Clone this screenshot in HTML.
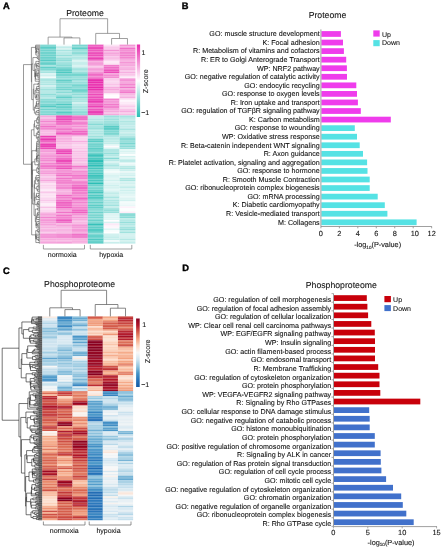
<!DOCTYPE html><html><head><meta charset="utf-8"><style>html,body{margin:0;padding:0;background:#fff;width:442px;height:550px;overflow:hidden}svg{display:block}</style></head><body><div style="will-change:transform;width:442px;height:550px"><svg width="442" height="550" viewBox="0 0 442 550" font-family='"Liberation Sans", sans-serif'><style>text{stroke:#141414;stroke-width:0.1px;text-rendering:geometricPrecision}.pl text{stroke:#000;stroke-width:0.4px}</style><rect width="442" height="550" fill="#fff"/><g font-weight="bold" font-size="9.3" fill="#000" class="pl"><text x="3" y="9.2">A</text><text x="181.8" y="9.3">B</text><text x="3" y="274.2">C</text><text x="182.2" y="270.9">D</text></g><rect x="40.2" y="44.6" width="15.89" height="1.71" fill="#83d9d4"/><rect x="56.07" y="44.6" width="15.89" height="1.71" fill="#f3fbfb"/><rect x="71.93" y="44.6" width="15.89" height="1.71" fill="#7bd6d1"/><rect x="87.8" y="44.6" width="15.89" height="1.71" fill="#ee5fc1"/><rect x="103.67" y="44.6" width="15.89" height="1.71" fill="#fce3f4"/><rect x="119.53" y="44.6" width="15.89" height="1.71" fill="#f497d6"/><rect x="40.2" y="46.29" width="15.89" height="1.71" fill="#5ccdc7"/><rect x="56.07" y="46.29" width="15.89" height="1.71" fill="#c2ecea"/><rect x="71.93" y="46.29" width="15.89" height="1.71" fill="#7dd7d2"/><rect x="87.8" y="46.29" width="15.89" height="1.71" fill="#ec50bb"/><rect x="103.67" y="46.29" width="15.89" height="1.71" fill="#f9c8ea"/><rect x="119.53" y="46.29" width="15.89" height="1.71" fill="#f5a6dc"/><rect x="40.2" y="47.97" width="15.89" height="1.71" fill="#6dd2cd"/><rect x="56.07" y="47.97" width="15.89" height="1.71" fill="#daf3f2"/><rect x="71.93" y="47.97" width="15.89" height="1.71" fill="#60cec8"/><rect x="87.8" y="47.97" width="15.89" height="1.71" fill="#eb4ab8"/><rect x="103.67" y="47.97" width="15.89" height="1.71" fill="#f9cceb"/><rect x="119.53" y="47.97" width="15.89" height="1.71" fill="#f071c8"/><rect x="40.2" y="49.66" width="15.89" height="1.71" fill="#71d3ce"/><rect x="56.07" y="49.66" width="15.89" height="1.71" fill="#a8e4e1"/><rect x="71.93" y="49.66" width="15.89" height="1.71" fill="#9be0dc"/><rect x="87.8" y="49.66" width="15.89" height="1.71" fill="#ed5bbf"/><rect x="103.67" y="49.66" width="15.89" height="1.71" fill="#f394d5"/><rect x="119.53" y="49.66" width="15.89" height="1.71" fill="#f392d4"/><rect x="40.2" y="51.35" width="15.89" height="1.71" fill="#71d3ce"/><rect x="56.07" y="51.35" width="15.89" height="1.71" fill="#bbeae8"/><rect x="71.93" y="51.35" width="15.89" height="1.71" fill="#92ddd9"/><rect x="87.8" y="51.35" width="15.89" height="1.71" fill="#ed5cbf"/><rect x="103.67" y="51.35" width="15.89" height="1.71" fill="#f7b4e2"/><rect x="119.53" y="51.35" width="15.89" height="1.71" fill="#f285cf"/><rect x="40.2" y="53.03" width="15.89" height="1.71" fill="#6fd3cd"/><rect x="56.07" y="53.03" width="15.89" height="1.71" fill="#b6e9e6"/><rect x="71.93" y="53.03" width="15.89" height="1.71" fill="#89dbd6"/><rect x="87.8" y="53.03" width="15.89" height="1.71" fill="#ec4cb9"/><rect x="103.67" y="53.03" width="15.89" height="1.71" fill="#f5a4db"/><rect x="119.53" y="53.03" width="15.89" height="1.71" fill="#f289d1"/><rect x="40.2" y="54.72" width="15.89" height="1.71" fill="#6dd2cc"/><rect x="56.07" y="54.72" width="15.89" height="1.71" fill="#98dfdb"/><rect x="71.93" y="54.72" width="15.89" height="1.71" fill="#afe6e3"/><rect x="87.8" y="54.72" width="15.89" height="1.71" fill="#ec4fba"/><rect x="103.67" y="54.72" width="15.89" height="1.71" fill="#f7b1e1"/><rect x="119.53" y="54.72" width="15.89" height="1.71" fill="#f182ce"/><rect x="40.2" y="56.41" width="15.89" height="1.71" fill="#6cd2cc"/><rect x="56.07" y="56.41" width="15.89" height="1.71" fill="#b5e8e5"/><rect x="71.93" y="56.41" width="15.89" height="1.71" fill="#b1e7e4"/><rect x="87.8" y="56.41" width="15.89" height="1.71" fill="#ee60c1"/><rect x="103.67" y="56.41" width="15.89" height="1.71" fill="#f8c1e7"/><rect x="119.53" y="56.41" width="15.89" height="1.71" fill="#f287d0"/><rect x="40.2" y="58.09" width="15.89" height="1.71" fill="#6dd2cd"/><rect x="56.07" y="58.09" width="15.89" height="1.71" fill="#94deda"/><rect x="71.93" y="58.09" width="15.89" height="1.71" fill="#afe6e3"/><rect x="87.8" y="58.09" width="15.89" height="1.71" fill="#e933af"/><rect x="103.67" y="58.09" width="15.89" height="1.71" fill="#f8bae4"/><rect x="119.53" y="58.09" width="15.89" height="1.71" fill="#f495d6"/><rect x="40.2" y="59.78" width="15.89" height="1.71" fill="#57cbc5"/><rect x="56.07" y="59.78" width="15.89" height="1.71" fill="#91ddd9"/><rect x="71.93" y="59.78" width="15.89" height="1.71" fill="#dbf4f2"/><rect x="87.8" y="59.78" width="15.89" height="1.71" fill="#f289d1"/><rect x="103.67" y="59.78" width="15.89" height="1.71" fill="#fbd8f0"/><rect x="119.53" y="59.78" width="15.89" height="1.71" fill="#f7b3e1"/><rect x="40.2" y="61.46" width="15.89" height="1.71" fill="#77d5d0"/><rect x="56.07" y="61.46" width="15.89" height="1.71" fill="#a5e3e0"/><rect x="71.93" y="61.46" width="15.89" height="1.71" fill="#c7eeec"/><rect x="87.8" y="61.46" width="15.89" height="1.71" fill="#f5a3db"/><rect x="103.67" y="61.46" width="15.89" height="1.71" fill="#fde9f6"/><rect x="119.53" y="61.46" width="15.89" height="1.71" fill="#f497d6"/><rect x="40.2" y="63.15" width="15.89" height="1.71" fill="#50c9c2"/><rect x="56.07" y="63.15" width="15.89" height="1.71" fill="#90ddd9"/><rect x="71.93" y="63.15" width="15.89" height="1.71" fill="#beebe8"/><rect x="87.8" y="63.15" width="15.89" height="1.71" fill="#f38ed3"/><rect x="103.67" y="63.15" width="15.89" height="1.71" fill="#fce0f3"/><rect x="119.53" y="63.15" width="15.89" height="1.71" fill="#f5a3db"/><rect x="40.2" y="64.84" width="15.89" height="1.71" fill="#abe5e2"/><rect x="56.07" y="64.84" width="15.89" height="1.71" fill="#8ddcd7"/><rect x="71.93" y="64.84" width="15.89" height="1.71" fill="#d9f3f2"/><rect x="87.8" y="64.84" width="15.89" height="1.71" fill="#f7b1e1"/><rect x="103.67" y="64.84" width="15.89" height="1.71" fill="#f17dcc"/><rect x="119.53" y="64.84" width="15.89" height="1.71" fill="#f6a8dd"/><rect x="40.2" y="66.52" width="15.89" height="1.71" fill="#62cfc9"/><rect x="56.07" y="66.52" width="15.89" height="1.71" fill="#85d9d5"/><rect x="71.93" y="66.52" width="15.89" height="1.71" fill="#c5edeb"/><rect x="87.8" y="66.52" width="15.89" height="1.71" fill="#f8c2e7"/><rect x="103.67" y="66.52" width="15.89" height="1.71" fill="#ef6dc6"/><rect x="119.53" y="66.52" width="15.89" height="1.71" fill="#f7b7e3"/><rect x="40.2" y="68.21" width="15.89" height="1.71" fill="#74d4cf"/><rect x="56.07" y="68.21" width="15.89" height="1.71" fill="#5ecdc7"/><rect x="71.93" y="68.21" width="15.89" height="1.71" fill="#99e0dc"/><rect x="87.8" y="68.21" width="15.89" height="1.71" fill="#f394d5"/><rect x="103.67" y="68.21" width="15.89" height="1.71" fill="#ef6cc6"/><rect x="119.53" y="68.21" width="15.89" height="1.71" fill="#f5a6dc"/><rect x="40.2" y="69.9" width="15.89" height="1.71" fill="#a0e2de"/><rect x="56.07" y="69.9" width="15.89" height="1.71" fill="#61cec8"/><rect x="71.93" y="69.9" width="15.89" height="1.71" fill="#b1e7e4"/><rect x="87.8" y="69.9" width="15.89" height="1.71" fill="#f6a9de"/><rect x="103.67" y="69.9" width="15.89" height="1.71" fill="#ed56bd"/><rect x="119.53" y="69.9" width="15.89" height="1.71" fill="#f9cbeb"/><rect x="40.2" y="71.58" width="15.89" height="1.71" fill="#a5e3e0"/><rect x="56.07" y="71.58" width="15.89" height="1.71" fill="#4ec9c2"/><rect x="71.93" y="71.58" width="15.89" height="1.71" fill="#99e0dc"/><rect x="87.8" y="71.58" width="15.89" height="1.71" fill="#f392d5"/><rect x="103.67" y="71.58" width="15.89" height="1.71" fill="#ec4bb9"/><rect x="119.53" y="71.58" width="15.89" height="1.71" fill="#f6afe0"/><rect x="40.2" y="73.27" width="15.89" height="1.71" fill="#dcf4f3"/><rect x="56.07" y="73.27" width="15.89" height="1.71" fill="#75d4cf"/><rect x="71.93" y="73.27" width="15.89" height="1.71" fill="#72d4ce"/><rect x="87.8" y="73.27" width="15.89" height="1.71" fill="#ef6ac5"/><rect x="103.67" y="73.27" width="15.89" height="1.71" fill="#f5a1da"/><rect x="119.53" y="73.27" width="15.89" height="1.71" fill="#f9c5e9"/><rect x="40.2" y="74.96" width="15.89" height="1.71" fill="#d0f0ef"/><rect x="56.07" y="74.96" width="15.89" height="1.71" fill="#74d4cf"/><rect x="71.93" y="74.96" width="15.89" height="1.71" fill="#77d5d0"/><rect x="87.8" y="74.96" width="15.89" height="1.71" fill="#f075c9"/><rect x="103.67" y="74.96" width="15.89" height="1.71" fill="#f38cd2"/><rect x="119.53" y="74.96" width="15.89" height="1.71" fill="#facfec"/><rect x="40.2" y="76.64" width="15.89" height="1.71" fill="#f1fbfa"/><rect x="56.07" y="76.64" width="15.89" height="1.71" fill="#8edcd8"/><rect x="71.93" y="76.64" width="15.89" height="1.71" fill="#99e0dc"/><rect x="87.8" y="76.64" width="15.89" height="1.71" fill="#f180cd"/><rect x="103.67" y="76.64" width="15.89" height="1.71" fill="#f38fd3"/><rect x="119.53" y="76.64" width="15.89" height="1.71" fill="#fdedf8"/><rect x="40.2" y="78.33" width="15.89" height="1.71" fill="#a9e5e1"/><rect x="56.07" y="78.33" width="15.89" height="1.71" fill="#8edcd8"/><rect x="71.93" y="78.33" width="15.89" height="1.71" fill="#8fdcd8"/><rect x="87.8" y="78.33" width="15.89" height="1.71" fill="#eb41b5"/><rect x="103.67" y="78.33" width="15.89" height="1.71" fill="#faceec"/><rect x="119.53" y="78.33" width="15.89" height="1.71" fill="#f497d7"/><rect x="40.2" y="80.02" width="15.89" height="1.71" fill="#abe5e2"/><rect x="56.07" y="80.02" width="15.89" height="1.71" fill="#61cec8"/><rect x="71.93" y="80.02" width="15.89" height="1.71" fill="#a4e3e0"/><rect x="87.8" y="80.02" width="15.89" height="1.71" fill="#e82dad"/><rect x="103.67" y="80.02" width="15.89" height="1.71" fill="#fad4ee"/><rect x="119.53" y="80.02" width="15.89" height="1.71" fill="#f392d5"/><rect x="40.2" y="81.7" width="15.89" height="1.71" fill="#b5e8e5"/><rect x="56.07" y="81.7" width="15.89" height="1.71" fill="#7fd8d3"/><rect x="71.93" y="81.7" width="15.89" height="1.71" fill="#98dfdc"/><rect x="87.8" y="81.7" width="15.89" height="1.71" fill="#e930ae"/><rect x="103.67" y="81.7" width="15.89" height="1.71" fill="#fad5ef"/><rect x="119.53" y="81.7" width="15.89" height="1.71" fill="#f6a9dd"/><rect x="40.2" y="83.39" width="15.89" height="1.71" fill="#aee6e3"/><rect x="56.07" y="83.39" width="15.89" height="1.71" fill="#8bdbd7"/><rect x="71.93" y="83.39" width="15.89" height="1.71" fill="#8adbd7"/><rect x="87.8" y="83.39" width="15.89" height="1.71" fill="#ea39b2"/><rect x="103.67" y="83.39" width="15.89" height="1.71" fill="#f9c3e8"/><rect x="119.53" y="83.39" width="15.89" height="1.71" fill="#f287d0"/><rect x="40.2" y="85.07" width="15.89" height="1.71" fill="#d2f1f0"/><rect x="56.07" y="85.07" width="15.89" height="1.71" fill="#91ddd9"/><rect x="71.93" y="85.07" width="15.89" height="1.71" fill="#6ed2cd"/><rect x="87.8" y="85.07" width="15.89" height="1.71" fill="#ea3cb3"/><rect x="103.67" y="85.07" width="15.89" height="1.71" fill="#fad1ed"/><rect x="119.53" y="85.07" width="15.89" height="1.71" fill="#f59ed9"/><rect x="40.2" y="86.76" width="15.89" height="1.71" fill="#b9eae7"/><rect x="56.07" y="86.76" width="15.89" height="1.71" fill="#7ad6d1"/><rect x="71.93" y="86.76" width="15.89" height="1.71" fill="#8adbd6"/><rect x="87.8" y="86.76" width="15.89" height="1.71" fill="#e82aac"/><rect x="103.67" y="86.76" width="15.89" height="1.71" fill="#f6addf"/><rect x="119.53" y="86.76" width="15.89" height="1.71" fill="#f077ca"/><rect x="40.2" y="88.45" width="15.89" height="1.71" fill="#a1e2de"/><rect x="56.07" y="88.45" width="15.89" height="1.71" fill="#73d4ce"/><rect x="71.93" y="88.45" width="15.89" height="1.71" fill="#76d5d0"/><rect x="87.8" y="88.45" width="15.89" height="1.71" fill="#e933af"/><rect x="103.67" y="88.45" width="15.89" height="1.71" fill="#f6a9dd"/><rect x="119.53" y="88.45" width="15.89" height="1.71" fill="#f6aade"/><rect x="40.2" y="90.13" width="15.89" height="1.71" fill="#aee6e3"/><rect x="56.07" y="90.13" width="15.89" height="1.71" fill="#9ee1dd"/><rect x="71.93" y="90.13" width="15.89" height="1.71" fill="#5ccdc7"/><rect x="87.8" y="90.13" width="15.89" height="1.71" fill="#ec51bb"/><rect x="103.67" y="90.13" width="15.89" height="1.71" fill="#f7b8e3"/><rect x="119.53" y="90.13" width="15.89" height="1.71" fill="#f283cf"/><rect x="40.2" y="91.82" width="15.89" height="1.71" fill="#b7e9e6"/><rect x="56.07" y="91.82" width="15.89" height="1.71" fill="#8bdbd7"/><rect x="71.93" y="91.82" width="15.89" height="1.71" fill="#8fddd8"/><rect x="87.8" y="91.82" width="15.89" height="1.71" fill="#ee65c3"/><rect x="103.67" y="91.82" width="15.89" height="1.71" fill="#f7bae4"/><rect x="119.53" y="91.82" width="15.89" height="1.71" fill="#f17acb"/><rect x="40.2" y="93.51" width="15.89" height="1.71" fill="#8fddd8"/><rect x="56.07" y="93.51" width="15.89" height="1.71" fill="#abe5e2"/><rect x="71.93" y="93.51" width="15.89" height="1.71" fill="#91ddd9"/><rect x="87.8" y="93.51" width="15.89" height="1.71" fill="#ec4cb9"/><rect x="103.67" y="93.51" width="15.89" height="1.71" fill="#fef4fb"/><rect x="119.53" y="93.51" width="15.89" height="1.71" fill="#f7b8e3"/><rect x="40.2" y="95.19" width="15.89" height="1.71" fill="#a1e2df"/><rect x="56.07" y="95.19" width="15.89" height="1.71" fill="#82d9d4"/><rect x="71.93" y="95.19" width="15.89" height="1.71" fill="#a4e3e0"/><rect x="87.8" y="95.19" width="15.89" height="1.71" fill="#ee61c1"/><rect x="103.67" y="95.19" width="15.89" height="1.71" fill="#fffcfe"/><rect x="119.53" y="95.19" width="15.89" height="1.71" fill="#f8bee6"/><rect x="40.2" y="96.88" width="15.89" height="1.71" fill="#bdebe8"/><rect x="56.07" y="96.88" width="15.89" height="1.71" fill="#64cfc9"/><rect x="71.93" y="96.88" width="15.89" height="1.71" fill="#8cdcd7"/><rect x="87.8" y="96.88" width="15.89" height="1.71" fill="#ec4eba"/><rect x="103.67" y="96.88" width="15.89" height="1.71" fill="#fffeff"/><rect x="119.53" y="96.88" width="15.89" height="1.71" fill="#f6b0e0"/><rect x="40.2" y="98.57" width="15.89" height="1.71" fill="#8ddcd7"/><rect x="56.07" y="98.57" width="15.89" height="1.71" fill="#92ddd9"/><rect x="71.93" y="98.57" width="15.89" height="1.71" fill="#ace5e2"/><rect x="87.8" y="98.57" width="15.89" height="1.71" fill="#ec4eba"/><rect x="103.67" y="98.57" width="15.89" height="1.71" fill="#f285cf"/><rect x="119.53" y="98.57" width="15.89" height="1.71" fill="#fce5f5"/><rect x="40.2" y="100.25" width="15.89" height="1.71" fill="#80d8d3"/><rect x="56.07" y="100.25" width="15.89" height="1.71" fill="#8ddcd7"/><rect x="71.93" y="100.25" width="15.89" height="1.71" fill="#a7e4e0"/><rect x="87.8" y="100.25" width="15.89" height="1.71" fill="#e935b0"/><rect x="103.67" y="100.25" width="15.89" height="1.71" fill="#f495d6"/><rect x="119.53" y="100.25" width="15.89" height="1.71" fill="#fef5fb"/><rect x="40.2" y="101.94" width="15.89" height="1.71" fill="#8adbd7"/><rect x="56.07" y="101.94" width="15.89" height="1.71" fill="#88dad6"/><rect x="71.93" y="101.94" width="15.89" height="1.71" fill="#d4f2f0"/><rect x="87.8" y="101.94" width="15.89" height="1.71" fill="#ed55bd"/><rect x="103.67" y="101.94" width="15.89" height="1.71" fill="#f49dd9"/><rect x="119.53" y="101.94" width="15.89" height="1.71" fill="#fdeaf7"/><rect x="40.2" y="103.63" width="15.89" height="1.71" fill="#77d5d0"/><rect x="56.07" y="103.63" width="15.89" height="1.71" fill="#51c9c3"/><rect x="71.93" y="103.63" width="15.89" height="1.71" fill="#b8e9e7"/><rect x="87.8" y="103.63" width="15.89" height="1.71" fill="#ee64c3"/><rect x="103.67" y="103.63" width="15.89" height="1.71" fill="#f17acb"/><rect x="119.53" y="103.63" width="15.89" height="1.71" fill="#fce2f4"/><rect x="40.2" y="105.31" width="15.89" height="1.71" fill="#54cac4"/><rect x="56.07" y="105.31" width="15.89" height="1.71" fill="#72d4ce"/><rect x="71.93" y="105.31" width="15.89" height="1.71" fill="#ade6e3"/><rect x="87.8" y="105.31" width="15.89" height="1.71" fill="#eb44b6"/><rect x="103.67" y="105.31" width="15.89" height="1.71" fill="#f284cf"/><rect x="119.53" y="105.31" width="15.89" height="1.71" fill="#f9cceb"/><rect x="40.2" y="107" width="15.89" height="1.71" fill="#90ddd8"/><rect x="56.07" y="107" width="15.89" height="1.71" fill="#67d0ca"/><rect x="71.93" y="107" width="15.89" height="1.71" fill="#abe5e2"/><rect x="87.8" y="107" width="15.89" height="1.71" fill="#f074c9"/><rect x="103.67" y="107" width="15.89" height="1.71" fill="#f284cf"/><rect x="119.53" y="107" width="15.89" height="1.71" fill="#fbdef2"/><rect x="40.2" y="108.68" width="15.89" height="1.71" fill="#72d4ce"/><rect x="56.07" y="108.68" width="15.89" height="1.71" fill="#79d6d1"/><rect x="71.93" y="108.68" width="15.89" height="1.71" fill="#a1e2df"/><rect x="87.8" y="108.68" width="15.89" height="1.71" fill="#ed57be"/><rect x="103.67" y="108.68" width="15.89" height="1.71" fill="#f5a5dc"/><rect x="119.53" y="108.68" width="15.89" height="1.71" fill="#f9c4e8"/><rect x="40.2" y="110.37" width="15.89" height="1.71" fill="#88dad6"/><rect x="56.07" y="110.37" width="15.89" height="1.71" fill="#7ed7d2"/><rect x="71.93" y="110.37" width="15.89" height="1.71" fill="#96dfdb"/><rect x="87.8" y="110.37" width="15.89" height="1.71" fill="#eb44b6"/><rect x="103.67" y="110.37" width="15.89" height="1.71" fill="#f6a9dd"/><rect x="119.53" y="110.37" width="15.89" height="1.71" fill="#f6acdf"/><rect x="40.2" y="112.06" width="15.89" height="1.71" fill="#81d8d3"/><rect x="56.07" y="112.06" width="15.89" height="1.71" fill="#4ec9c2"/><rect x="71.93" y="112.06" width="15.89" height="1.71" fill="#85d9d5"/><rect x="87.8" y="112.06" width="15.89" height="1.71" fill="#e934b0"/><rect x="103.67" y="112.06" width="15.89" height="1.71" fill="#f8c2e7"/><rect x="119.53" y="112.06" width="15.89" height="1.71" fill="#f9c9ea"/><rect x="40.2" y="113.74" width="15.89" height="1.71" fill="#7bd6d1"/><rect x="56.07" y="113.74" width="15.89" height="1.71" fill="#80d8d3"/><rect x="71.93" y="113.74" width="15.89" height="1.71" fill="#91ddd9"/><rect x="87.8" y="113.74" width="15.89" height="1.71" fill="#ed58be"/><rect x="103.67" y="113.74" width="15.89" height="1.71" fill="#f6aade"/><rect x="119.53" y="113.74" width="15.89" height="1.71" fill="#f8bce5"/><rect x="40.2" y="115.43" width="15.89" height="1.71" fill="#f6aade"/><rect x="56.07" y="115.43" width="15.89" height="1.71" fill="#ec4fba"/><rect x="71.93" y="115.43" width="15.89" height="1.71" fill="#f17acb"/><rect x="87.8" y="115.43" width="15.89" height="1.71" fill="#c8eeec"/><rect x="103.67" y="115.43" width="15.89" height="1.71" fill="#9fe1de"/><rect x="119.53" y="115.43" width="15.89" height="1.71" fill="#a8e4e1"/><rect x="40.2" y="117.12" width="15.89" height="1.71" fill="#f8bde5"/><rect x="56.07" y="117.12" width="15.89" height="1.71" fill="#ec4dba"/><rect x="71.93" y="117.12" width="15.89" height="1.71" fill="#ed5cbf"/><rect x="87.8" y="117.12" width="15.89" height="1.71" fill="#c1ecea"/><rect x="103.67" y="117.12" width="15.89" height="1.71" fill="#aae5e2"/><rect x="119.53" y="117.12" width="15.89" height="1.71" fill="#ade6e3"/><rect x="40.2" y="118.8" width="15.89" height="1.71" fill="#f6a9de"/><rect x="56.07" y="118.8" width="15.89" height="1.71" fill="#eb48b8"/><rect x="71.93" y="118.8" width="15.89" height="1.71" fill="#ef6ec6"/><rect x="87.8" y="118.8" width="15.89" height="1.71" fill="#b1e7e4"/><rect x="103.67" y="118.8" width="15.89" height="1.71" fill="#9fe2de"/><rect x="119.53" y="118.8" width="15.89" height="1.71" fill="#c6edeb"/><rect x="40.2" y="120.49" width="15.89" height="1.71" fill="#f287d0"/><rect x="56.07" y="120.49" width="15.89" height="1.71" fill="#ee60c1"/><rect x="71.93" y="120.49" width="15.89" height="1.71" fill="#f59fda"/><rect x="87.8" y="120.49" width="15.89" height="1.71" fill="#b1e7e4"/><rect x="103.67" y="120.49" width="15.89" height="1.71" fill="#9ee1dd"/><rect x="119.53" y="120.49" width="15.89" height="1.71" fill="#afe6e3"/><rect x="40.2" y="122.18" width="15.89" height="1.71" fill="#f5a3db"/><rect x="56.07" y="122.18" width="15.89" height="1.71" fill="#ee63c2"/><rect x="71.93" y="122.18" width="15.89" height="1.71" fill="#ef6ec6"/><rect x="87.8" y="122.18" width="15.89" height="1.71" fill="#a0e2de"/><rect x="103.67" y="122.18" width="15.89" height="1.71" fill="#94deda"/><rect x="119.53" y="122.18" width="15.89" height="1.71" fill="#b7e9e6"/><rect x="40.2" y="123.86" width="15.89" height="1.71" fill="#f496d6"/><rect x="56.07" y="123.86" width="15.89" height="1.71" fill="#f076ca"/><rect x="71.93" y="123.86" width="15.89" height="1.71" fill="#f38fd3"/><rect x="87.8" y="123.86" width="15.89" height="1.71" fill="#87dad6"/><rect x="103.67" y="123.86" width="15.89" height="1.71" fill="#8fddd8"/><rect x="119.53" y="123.86" width="15.89" height="1.71" fill="#bceae8"/><rect x="40.2" y="125.55" width="15.89" height="1.71" fill="#f073c8"/><rect x="56.07" y="125.55" width="15.89" height="1.71" fill="#f497d6"/><rect x="71.93" y="125.55" width="15.89" height="1.71" fill="#f390d4"/><rect x="87.8" y="125.55" width="15.89" height="1.71" fill="#a9e4e1"/><rect x="103.67" y="125.55" width="15.89" height="1.71" fill="#5accc6"/><rect x="119.53" y="125.55" width="15.89" height="1.71" fill="#c1ecea"/><rect x="40.2" y="127.24" width="15.89" height="1.71" fill="#f283cf"/><rect x="56.07" y="127.24" width="15.89" height="1.71" fill="#f283cf"/><rect x="71.93" y="127.24" width="15.89" height="1.71" fill="#f5a0da"/><rect x="87.8" y="127.24" width="15.89" height="1.71" fill="#93deda"/><rect x="103.67" y="127.24" width="15.89" height="1.71" fill="#54cac4"/><rect x="119.53" y="127.24" width="15.89" height="1.71" fill="#bfebe9"/><rect x="40.2" y="128.92" width="15.89" height="1.71" fill="#f49cd8"/><rect x="56.07" y="128.92" width="15.89" height="1.71" fill="#f075c9"/><rect x="71.93" y="128.92" width="15.89" height="1.71" fill="#f38cd2"/><rect x="87.8" y="128.92" width="15.89" height="1.71" fill="#b1e7e4"/><rect x="103.67" y="128.92" width="15.89" height="1.71" fill="#68d0cb"/><rect x="119.53" y="128.92" width="15.89" height="1.71" fill="#a8e4e1"/><rect x="40.2" y="130.61" width="15.89" height="1.71" fill="#f8bce5"/><rect x="56.07" y="130.61" width="15.89" height="1.71" fill="#f288d1"/><rect x="71.93" y="130.61" width="15.89" height="1.71" fill="#ee66c3"/><rect x="87.8" y="130.61" width="15.89" height="1.71" fill="#b0e7e4"/><rect x="103.67" y="130.61" width="15.89" height="1.71" fill="#80d8d3"/><rect x="119.53" y="130.61" width="15.89" height="1.71" fill="#c4edeb"/><rect x="40.2" y="132.29" width="15.89" height="1.71" fill="#f8bbe5"/><rect x="56.07" y="132.29" width="15.89" height="1.71" fill="#ed58be"/><rect x="71.93" y="132.29" width="15.89" height="1.71" fill="#ef6ac5"/><rect x="87.8" y="132.29" width="15.89" height="1.71" fill="#ade6e3"/><rect x="103.67" y="132.29" width="15.89" height="1.71" fill="#7bd6d1"/><rect x="119.53" y="132.29" width="15.89" height="1.71" fill="#c9eeec"/><rect x="40.2" y="133.98" width="15.89" height="1.71" fill="#f8c2e7"/><rect x="56.07" y="133.98" width="15.89" height="1.71" fill="#f17fcd"/><rect x="71.93" y="133.98" width="15.89" height="1.71" fill="#f075c9"/><rect x="87.8" y="133.98" width="15.89" height="1.71" fill="#baeae7"/><rect x="103.67" y="133.98" width="15.89" height="1.71" fill="#86dad5"/><rect x="119.53" y="133.98" width="15.89" height="1.71" fill="#bdebe8"/><rect x="40.2" y="135.67" width="15.89" height="1.71" fill="#eb41b5"/><rect x="56.07" y="135.67" width="15.89" height="1.71" fill="#f7b0e0"/><rect x="71.93" y="135.67" width="15.89" height="1.71" fill="#f9c8ea"/><rect x="87.8" y="135.67" width="15.89" height="1.71" fill="#9de1dd"/><rect x="103.67" y="135.67" width="15.89" height="1.71" fill="#afe6e3"/><rect x="119.53" y="135.67" width="15.89" height="1.71" fill="#afe6e3"/><rect x="40.2" y="137.35" width="15.89" height="1.71" fill="#ed5cbf"/><rect x="56.07" y="137.35" width="15.89" height="1.71" fill="#f6addf"/><rect x="71.93" y="137.35" width="15.89" height="1.71" fill="#fad2ed"/><rect x="87.8" y="137.35" width="15.89" height="1.71" fill="#a2e2df"/><rect x="103.67" y="137.35" width="15.89" height="1.71" fill="#b8e9e6"/><rect x="119.53" y="137.35" width="15.89" height="1.71" fill="#8bdbd7"/><rect x="40.2" y="139.04" width="15.89" height="1.71" fill="#e932af"/><rect x="56.07" y="139.04" width="15.89" height="1.71" fill="#f7b2e1"/><rect x="71.93" y="139.04" width="15.89" height="1.71" fill="#fad5ef"/><rect x="87.8" y="139.04" width="15.89" height="1.71" fill="#61cec8"/><rect x="103.67" y="139.04" width="15.89" height="1.71" fill="#bdebe8"/><rect x="119.53" y="139.04" width="15.89" height="1.71" fill="#84d9d5"/><rect x="40.2" y="140.73" width="15.89" height="1.71" fill="#ee66c3"/><rect x="56.07" y="140.73" width="15.89" height="1.71" fill="#f6aedf"/><rect x="71.93" y="140.73" width="15.89" height="1.71" fill="#f6aee0"/><rect x="87.8" y="140.73" width="15.89" height="1.71" fill="#5accc6"/><rect x="103.67" y="140.73" width="15.89" height="1.71" fill="#beebe8"/><rect x="119.53" y="140.73" width="15.89" height="1.71" fill="#98dfdb"/><rect x="40.2" y="142.41" width="15.89" height="1.71" fill="#f072c8"/><rect x="56.07" y="142.41" width="15.89" height="1.71" fill="#f8bce5"/><rect x="71.93" y="142.41" width="15.89" height="1.71" fill="#f9c8ea"/><rect x="87.8" y="142.41" width="15.89" height="1.71" fill="#83d9d4"/><rect x="103.67" y="142.41" width="15.89" height="1.71" fill="#c2ecea"/><rect x="119.53" y="142.41" width="15.89" height="1.71" fill="#7bd6d1"/><rect x="40.2" y="144.1" width="15.89" height="1.71" fill="#e82dad"/><rect x="56.07" y="144.1" width="15.89" height="1.71" fill="#f9c5e8"/><rect x="71.93" y="144.1" width="15.89" height="1.71" fill="#fad5ef"/><rect x="87.8" y="144.1" width="15.89" height="1.71" fill="#64cfc9"/><rect x="103.67" y="144.1" width="15.89" height="1.71" fill="#def5f3"/><rect x="119.53" y="144.1" width="15.89" height="1.71" fill="#96dfdb"/><rect x="40.2" y="145.79" width="15.89" height="1.71" fill="#ea41b5"/><rect x="56.07" y="145.79" width="15.89" height="1.71" fill="#f9c6e9"/><rect x="71.93" y="145.79" width="15.89" height="1.71" fill="#fad1ed"/><rect x="87.8" y="145.79" width="15.89" height="1.71" fill="#74d4cf"/><rect x="103.67" y="145.79" width="15.89" height="1.71" fill="#fefafd"/><rect x="119.53" y="145.79" width="15.89" height="1.71" fill="#8bdbd7"/><rect x="40.2" y="147.47" width="15.89" height="1.71" fill="#ec4fba"/><rect x="56.07" y="147.47" width="15.89" height="1.71" fill="#f7b5e2"/><rect x="71.93" y="147.47" width="15.89" height="1.71" fill="#f9c6e9"/><rect x="87.8" y="147.47" width="15.89" height="1.71" fill="#5ecec7"/><rect x="103.67" y="147.47" width="15.89" height="1.71" fill="#daf4f2"/><rect x="119.53" y="147.47" width="15.89" height="1.71" fill="#9be0dc"/><rect x="40.2" y="149.16" width="15.89" height="1.71" fill="#f498d7"/><rect x="56.07" y="149.16" width="15.89" height="1.71" fill="#ec4fba"/><rect x="71.93" y="149.16" width="15.89" height="1.71" fill="#fad0ed"/><rect x="87.8" y="149.16" width="15.89" height="1.71" fill="#5fcec8"/><rect x="103.67" y="149.16" width="15.89" height="1.71" fill="#a5e3e0"/><rect x="119.53" y="149.16" width="15.89" height="1.71" fill="#e4f7f6"/><rect x="40.2" y="150.85" width="15.89" height="1.71" fill="#f49dd9"/><rect x="56.07" y="150.85" width="15.89" height="1.71" fill="#ec4cb9"/><rect x="71.93" y="150.85" width="15.89" height="1.71" fill="#f8bde5"/><rect x="87.8" y="150.85" width="15.89" height="1.71" fill="#77d5d0"/><rect x="103.67" y="150.85" width="15.89" height="1.71" fill="#b2e7e4"/><rect x="119.53" y="150.85" width="15.89" height="1.71" fill="#d8f3f1"/><rect x="40.2" y="152.53" width="15.89" height="1.71" fill="#f6aade"/><rect x="56.07" y="152.53" width="15.89" height="1.71" fill="#eb46b7"/><rect x="71.93" y="152.53" width="15.89" height="1.71" fill="#f9c5e9"/><rect x="87.8" y="152.53" width="15.89" height="1.71" fill="#6fd3cd"/><rect x="103.67" y="152.53" width="15.89" height="1.71" fill="#96dfdb"/><rect x="119.53" y="152.53" width="15.89" height="1.71" fill="#e3f6f5"/><rect x="40.2" y="154.22" width="15.89" height="1.71" fill="#f496d6"/><rect x="56.07" y="154.22" width="15.89" height="1.71" fill="#f38ed3"/><rect x="71.93" y="154.22" width="15.89" height="1.71" fill="#f9c4e8"/><rect x="87.8" y="154.22" width="15.89" height="1.71" fill="#30bfb7"/><rect x="103.67" y="154.22" width="15.89" height="1.71" fill="#ace5e2"/><rect x="119.53" y="154.22" width="15.89" height="1.71" fill="#fbfefd"/><rect x="40.2" y="155.91" width="15.89" height="1.71" fill="#f497d7"/><rect x="56.07" y="155.91" width="15.89" height="1.71" fill="#f17fcd"/><rect x="71.93" y="155.91" width="15.89" height="1.71" fill="#f9cceb"/><rect x="87.8" y="155.91" width="15.89" height="1.71" fill="#54cac4"/><rect x="103.67" y="155.91" width="15.89" height="1.71" fill="#caefed"/><rect x="119.53" y="155.91" width="15.89" height="1.71" fill="#d2f1ef"/><rect x="40.2" y="157.59" width="15.89" height="1.71" fill="#f390d4"/><rect x="56.07" y="157.59" width="15.89" height="1.71" fill="#ef6ac5"/><rect x="71.93" y="157.59" width="15.89" height="1.71" fill="#f7b4e2"/><rect x="87.8" y="157.59" width="15.89" height="1.71" fill="#4bc8c1"/><rect x="103.67" y="157.59" width="15.89" height="1.71" fill="#87dad6"/><rect x="119.53" y="157.59" width="15.89" height="1.71" fill="#e4f7f6"/><rect x="40.2" y="159.28" width="15.89" height="1.71" fill="#f289d1"/><rect x="56.07" y="159.28" width="15.89" height="1.71" fill="#eb47b7"/><rect x="71.93" y="159.28" width="15.89" height="1.71" fill="#f8bbe5"/><rect x="87.8" y="159.28" width="15.89" height="1.71" fill="#33c0b8"/><rect x="103.67" y="159.28" width="15.89" height="1.71" fill="#b7e9e6"/><rect x="119.53" y="159.28" width="15.89" height="1.71" fill="#bceae8"/><rect x="40.2" y="160.96" width="15.89" height="1.71" fill="#f6a9dd"/><rect x="56.07" y="160.96" width="15.89" height="1.71" fill="#ec4cb9"/><rect x="71.93" y="160.96" width="15.89" height="1.71" fill="#f9c7e9"/><rect x="87.8" y="160.96" width="15.89" height="1.71" fill="#2cbeb6"/><rect x="103.67" y="160.96" width="15.89" height="1.71" fill="#d9f3f2"/><rect x="119.53" y="160.96" width="15.89" height="1.71" fill="#beebe9"/><rect x="40.2" y="162.65" width="15.89" height="1.71" fill="#f283cf"/><rect x="56.07" y="162.65" width="15.89" height="1.71" fill="#ee63c2"/><rect x="71.93" y="162.65" width="15.89" height="1.71" fill="#f8c0e6"/><rect x="87.8" y="162.65" width="15.89" height="1.71" fill="#48c7c0"/><rect x="103.67" y="162.65" width="15.89" height="1.71" fill="#c7eeec"/><rect x="119.53" y="162.65" width="15.89" height="1.71" fill="#f0fafa"/><rect x="40.2" y="164.34" width="15.89" height="1.71" fill="#f180ce"/><rect x="56.07" y="164.34" width="15.89" height="1.71" fill="#f17acb"/><rect x="71.93" y="164.34" width="15.89" height="1.71" fill="#f6aedf"/><rect x="87.8" y="164.34" width="15.89" height="1.71" fill="#30bfb8"/><rect x="103.67" y="164.34" width="15.89" height="1.71" fill="#aae5e2"/><rect x="119.53" y="164.34" width="15.89" height="1.71" fill="#dff5f4"/><rect x="40.2" y="166.02" width="15.89" height="1.71" fill="#f073c9"/><rect x="56.07" y="166.02" width="15.89" height="1.71" fill="#ee5fc0"/><rect x="71.93" y="166.02" width="15.89" height="1.71" fill="#f077ca"/><rect x="87.8" y="166.02" width="15.89" height="1.71" fill="#55cbc4"/><rect x="103.67" y="166.02" width="15.89" height="1.71" fill="#bfebe9"/><rect x="119.53" y="166.02" width="15.89" height="1.71" fill="#b8e9e6"/><rect x="40.2" y="167.71" width="15.89" height="1.71" fill="#f284cf"/><rect x="56.07" y="167.71" width="15.89" height="1.71" fill="#ec52bb"/><rect x="71.93" y="167.71" width="15.89" height="1.71" fill="#f49ad8"/><rect x="87.8" y="167.71" width="15.89" height="1.71" fill="#47c6bf"/><rect x="103.67" y="167.71" width="15.89" height="1.71" fill="#bbeae8"/><rect x="119.53" y="167.71" width="15.89" height="1.71" fill="#aee6e3"/><rect x="40.2" y="169.4" width="15.89" height="1.71" fill="#f7b0e0"/><rect x="56.07" y="169.4" width="15.89" height="1.71" fill="#f496d6"/><rect x="71.93" y="169.4" width="15.89" height="1.71" fill="#f6aee0"/><rect x="87.8" y="169.4" width="15.89" height="1.71" fill="#62cfc9"/><rect x="103.67" y="169.4" width="15.89" height="1.71" fill="#ebf9f8"/><rect x="119.53" y="169.4" width="15.89" height="1.71" fill="#cbefed"/><rect x="40.2" y="171.08" width="15.89" height="1.71" fill="#f49dd9"/><rect x="56.07" y="171.08" width="15.89" height="1.71" fill="#f391d4"/><rect x="71.93" y="171.08" width="15.89" height="1.71" fill="#f285cf"/><rect x="87.8" y="171.08" width="15.89" height="1.71" fill="#62cfc9"/><rect x="103.67" y="171.08" width="15.89" height="1.71" fill="#f5fcfb"/><rect x="119.53" y="171.08" width="15.89" height="1.71" fill="#e9f8f7"/><rect x="40.2" y="172.77" width="15.89" height="1.71" fill="#f49bd8"/><rect x="56.07" y="172.77" width="15.89" height="1.71" fill="#f283ce"/><rect x="71.93" y="172.77" width="15.89" height="1.71" fill="#f499d7"/><rect x="87.8" y="172.77" width="15.89" height="1.71" fill="#4bc8c1"/><rect x="103.67" y="172.77" width="15.89" height="1.71" fill="#e5f7f6"/><rect x="119.53" y="172.77" width="15.89" height="1.71" fill="#d8f3f2"/><rect x="40.2" y="174.46" width="15.89" height="1.71" fill="#f8bae4"/><rect x="56.07" y="174.46" width="15.89" height="1.71" fill="#f071c8"/><rect x="71.93" y="174.46" width="15.89" height="1.71" fill="#f076ca"/><rect x="87.8" y="174.46" width="15.89" height="1.71" fill="#3dc3bc"/><rect x="103.67" y="174.46" width="15.89" height="1.71" fill="#d7f3f1"/><rect x="119.53" y="174.46" width="15.89" height="1.71" fill="#d0f0ef"/><rect x="40.2" y="176.14" width="15.89" height="1.71" fill="#f9c9ea"/><rect x="56.07" y="176.14" width="15.89" height="1.71" fill="#f49cd8"/><rect x="71.93" y="176.14" width="15.89" height="1.71" fill="#f17bcc"/><rect x="87.8" y="176.14" width="15.89" height="1.71" fill="#33c0b8"/><rect x="103.67" y="176.14" width="15.89" height="1.71" fill="#d6f2f1"/><rect x="119.53" y="176.14" width="15.89" height="1.71" fill="#e3f6f5"/><rect x="40.2" y="177.83" width="15.89" height="1.71" fill="#f8bde5"/><rect x="56.07" y="177.83" width="15.89" height="1.71" fill="#f077ca"/><rect x="71.93" y="177.83" width="15.89" height="1.71" fill="#f181ce"/><rect x="87.8" y="177.83" width="15.89" height="1.71" fill="#57cbc5"/><rect x="103.67" y="177.83" width="15.89" height="1.71" fill="#e2f6f5"/><rect x="119.53" y="177.83" width="15.89" height="1.71" fill="#b1e7e4"/><rect x="40.2" y="179.52" width="15.89" height="1.71" fill="#f5a6dc"/><rect x="56.07" y="179.52" width="15.89" height="1.71" fill="#f284cf"/><rect x="71.93" y="179.52" width="15.89" height="1.71" fill="#f6acdf"/><rect x="87.8" y="179.52" width="15.89" height="1.71" fill="#4bc8c1"/><rect x="103.67" y="179.52" width="15.89" height="1.71" fill="#d1f1ef"/><rect x="119.53" y="179.52" width="15.89" height="1.71" fill="#ace6e2"/><rect x="40.2" y="181.2" width="15.89" height="1.71" fill="#f9c4e8"/><rect x="56.07" y="181.2" width="15.89" height="1.71" fill="#f078ca"/><rect x="71.93" y="181.2" width="15.89" height="1.71" fill="#f075c9"/><rect x="87.8" y="181.2" width="15.89" height="1.71" fill="#5ccdc7"/><rect x="103.67" y="181.2" width="15.89" height="1.71" fill="#e3f6f5"/><rect x="119.53" y="181.2" width="15.89" height="1.71" fill="#d5f2f1"/><rect x="40.2" y="182.89" width="15.89" height="1.71" fill="#fce2f4"/><rect x="56.07" y="182.89" width="15.89" height="1.71" fill="#f38cd2"/><rect x="71.93" y="182.89" width="15.89" height="1.71" fill="#f289d1"/><rect x="87.8" y="182.89" width="15.89" height="1.71" fill="#2cbeb6"/><rect x="103.67" y="182.89" width="15.89" height="1.71" fill="#dcf4f3"/><rect x="119.53" y="182.89" width="15.89" height="1.71" fill="#d1f1ef"/><rect x="40.2" y="184.57" width="15.89" height="1.71" fill="#fad2ed"/><rect x="56.07" y="184.57" width="15.89" height="1.71" fill="#f392d5"/><rect x="71.93" y="184.57" width="15.89" height="1.71" fill="#ef6dc6"/><rect x="87.8" y="184.57" width="15.89" height="1.71" fill="#6dd2cd"/><rect x="103.67" y="184.57" width="15.89" height="1.71" fill="#cef0ee"/><rect x="119.53" y="184.57" width="15.89" height="1.71" fill="#daf4f2"/><rect x="40.2" y="186.26" width="15.89" height="1.71" fill="#fbd6ef"/><rect x="56.07" y="186.26" width="15.89" height="1.71" fill="#f286d0"/><rect x="71.93" y="186.26" width="15.89" height="1.71" fill="#ee63c2"/><rect x="87.8" y="186.26" width="15.89" height="1.71" fill="#7ed7d2"/><rect x="103.67" y="186.26" width="15.89" height="1.71" fill="#d4f2f0"/><rect x="119.53" y="186.26" width="15.89" height="1.71" fill="#c1ecea"/><rect x="40.2" y="187.95" width="15.89" height="1.71" fill="#fbddf2"/><rect x="56.07" y="187.95" width="15.89" height="1.71" fill="#f28bd2"/><rect x="71.93" y="187.95" width="15.89" height="1.71" fill="#ee66c3"/><rect x="87.8" y="187.95" width="15.89" height="1.71" fill="#75d5cf"/><rect x="103.67" y="187.95" width="15.89" height="1.71" fill="#dcf4f3"/><rect x="119.53" y="187.95" width="15.89" height="1.71" fill="#dbf4f3"/><rect x="40.2" y="189.63" width="15.89" height="1.71" fill="#fdecf8"/><rect x="56.07" y="189.63" width="15.89" height="1.71" fill="#f7b6e3"/><rect x="71.93" y="189.63" width="15.89" height="1.71" fill="#f077ca"/><rect x="87.8" y="189.63" width="15.89" height="1.71" fill="#68d0cb"/><rect x="103.67" y="189.63" width="15.89" height="1.71" fill="#e1f6f5"/><rect x="119.53" y="189.63" width="15.89" height="1.71" fill="#cdf0ee"/><rect x="40.2" y="191.32" width="15.89" height="1.71" fill="#f9c9ea"/><rect x="56.07" y="191.32" width="15.89" height="1.71" fill="#f7b1e1"/><rect x="71.93" y="191.32" width="15.89" height="1.71" fill="#f282ce"/><rect x="87.8" y="191.32" width="15.89" height="1.71" fill="#47c6bf"/><rect x="103.67" y="191.32" width="15.89" height="1.71" fill="#cbefed"/><rect x="119.53" y="191.32" width="15.89" height="1.71" fill="#d8f3f2"/><rect x="40.2" y="193.01" width="15.89" height="1.71" fill="#fcdff3"/><rect x="56.07" y="193.01" width="15.89" height="1.71" fill="#f7b1e0"/><rect x="71.93" y="193.01" width="15.89" height="1.71" fill="#f181ce"/><rect x="87.8" y="193.01" width="15.89" height="1.71" fill="#7bd6d1"/><rect x="103.67" y="193.01" width="15.89" height="1.71" fill="#c1ece9"/><rect x="119.53" y="193.01" width="15.89" height="1.71" fill="#daf4f2"/><rect x="40.2" y="194.69" width="15.89" height="1.71" fill="#fce0f3"/><rect x="56.07" y="194.69" width="15.89" height="1.71" fill="#ef6fc7"/><rect x="71.93" y="194.69" width="15.89" height="1.71" fill="#f38cd2"/><rect x="87.8" y="194.69" width="15.89" height="1.71" fill="#53cac4"/><rect x="103.67" y="194.69" width="15.89" height="1.71" fill="#cdf0ee"/><rect x="119.53" y="194.69" width="15.89" height="1.71" fill="#e2f6f5"/><rect x="40.2" y="196.38" width="15.89" height="1.71" fill="#fce0f3"/><rect x="56.07" y="196.38" width="15.89" height="1.71" fill="#f17fcd"/><rect x="71.93" y="196.38" width="15.89" height="1.71" fill="#f284cf"/><rect x="87.8" y="196.38" width="15.89" height="1.71" fill="#4ec9c2"/><rect x="103.67" y="196.38" width="15.89" height="1.71" fill="#aae5e2"/><rect x="119.53" y="196.38" width="15.89" height="1.71" fill="#e6f7f6"/><rect x="40.2" y="198.07" width="15.89" height="1.71" fill="#fad5ef"/><rect x="56.07" y="198.07" width="15.89" height="1.71" fill="#f391d4"/><rect x="71.93" y="198.07" width="15.89" height="1.71" fill="#ed5bbf"/><rect x="87.8" y="198.07" width="15.89" height="1.71" fill="#56cbc4"/><rect x="103.67" y="198.07" width="15.89" height="1.71" fill="#c7eeec"/><rect x="119.53" y="198.07" width="15.89" height="1.71" fill="#dbf4f3"/><rect x="40.2" y="199.75" width="15.89" height="1.71" fill="#f9c8ea"/><rect x="56.07" y="199.75" width="15.89" height="1.71" fill="#f072c8"/><rect x="71.93" y="199.75" width="15.89" height="1.71" fill="#f393d5"/><rect x="87.8" y="199.75" width="15.89" height="1.71" fill="#84d9d5"/><rect x="103.67" y="199.75" width="15.89" height="1.71" fill="#ade6e3"/><rect x="119.53" y="199.75" width="15.89" height="1.71" fill="#d1f1ef"/><rect x="40.2" y="201.44" width="15.89" height="1.71" fill="#fbdaf1"/><rect x="56.07" y="201.44" width="15.89" height="1.71" fill="#ee61c1"/><rect x="71.93" y="201.44" width="15.89" height="1.71" fill="#f283cf"/><rect x="87.8" y="201.44" width="15.89" height="1.71" fill="#69d1cb"/><rect x="103.67" y="201.44" width="15.89" height="1.71" fill="#b1e7e4"/><rect x="119.53" y="201.44" width="15.89" height="1.71" fill="#f4fcfb"/><rect x="40.2" y="203.13" width="15.89" height="1.71" fill="#fdecf7"/><rect x="56.07" y="203.13" width="15.89" height="1.71" fill="#ee60c1"/><rect x="71.93" y="203.13" width="15.89" height="1.71" fill="#f499d7"/><rect x="87.8" y="203.13" width="15.89" height="1.71" fill="#81d8d3"/><rect x="103.67" y="203.13" width="15.89" height="1.71" fill="#b4e8e5"/><rect x="119.53" y="203.13" width="15.89" height="1.71" fill="#f0fafa"/><rect x="40.2" y="204.81" width="15.89" height="1.71" fill="#fdecf8"/><rect x="56.07" y="204.81" width="15.89" height="1.71" fill="#ef6bc5"/><rect x="71.93" y="204.81" width="15.89" height="1.71" fill="#f392d5"/><rect x="87.8" y="204.81" width="15.89" height="1.71" fill="#5dcdc7"/><rect x="103.67" y="204.81" width="15.89" height="1.71" fill="#a1e2df"/><rect x="119.53" y="204.81" width="15.89" height="1.71" fill="#eaf8f8"/><rect x="40.2" y="206.5" width="15.89" height="1.71" fill="#f8c3e7"/><rect x="56.07" y="206.5" width="15.89" height="1.71" fill="#ee5fc1"/><rect x="71.93" y="206.5" width="15.89" height="1.71" fill="#f282ce"/><rect x="87.8" y="206.5" width="15.89" height="1.71" fill="#65cfca"/><rect x="103.67" y="206.5" width="15.89" height="1.71" fill="#c7eeeb"/><rect x="119.53" y="206.5" width="15.89" height="1.71" fill="#fef1fa"/><rect x="40.2" y="208.18" width="15.89" height="1.71" fill="#fce0f3"/><rect x="56.07" y="208.18" width="15.89" height="1.71" fill="#f38ed3"/><rect x="71.93" y="208.18" width="15.89" height="1.71" fill="#f284cf"/><rect x="87.8" y="208.18" width="15.89" height="1.71" fill="#78d5d0"/><rect x="103.67" y="208.18" width="15.89" height="1.71" fill="#9ee1dd"/><rect x="119.53" y="208.18" width="15.89" height="1.71" fill="#fcfefe"/><rect x="40.2" y="209.87" width="15.89" height="1.71" fill="#fbd8f0"/><rect x="56.07" y="209.87" width="15.89" height="1.71" fill="#f6a9dd"/><rect x="71.93" y="209.87" width="15.89" height="1.71" fill="#ef6cc6"/><rect x="87.8" y="209.87" width="15.89" height="1.71" fill="#91ddd9"/><rect x="103.67" y="209.87" width="15.89" height="1.71" fill="#94deda"/><rect x="119.53" y="209.87" width="15.89" height="1.71" fill="#fcfefe"/><rect x="40.2" y="211.56" width="15.89" height="1.71" fill="#f9c4e8"/><rect x="56.07" y="211.56" width="15.89" height="1.71" fill="#f073c8"/><rect x="71.93" y="211.56" width="15.89" height="1.71" fill="#ee60c1"/><rect x="87.8" y="211.56" width="15.89" height="1.71" fill="#6ed2cd"/><rect x="103.67" y="211.56" width="15.89" height="1.71" fill="#99e0dc"/><rect x="119.53" y="211.56" width="15.89" height="1.71" fill="#fdedf8"/><rect x="40.2" y="213.24" width="15.89" height="1.71" fill="#f5a0da"/><rect x="56.07" y="213.24" width="15.89" height="1.71" fill="#f59ed9"/><rect x="71.93" y="213.24" width="15.89" height="1.71" fill="#f38dd2"/><rect x="87.8" y="213.24" width="15.89" height="1.71" fill="#8ddcd7"/><rect x="103.67" y="213.24" width="15.89" height="1.71" fill="#dcf4f3"/><rect x="119.53" y="213.24" width="15.89" height="1.71" fill="#87dad6"/><rect x="40.2" y="214.93" width="15.89" height="1.71" fill="#f6b0e0"/><rect x="56.07" y="214.93" width="15.89" height="1.71" fill="#f075c9"/><rect x="71.93" y="214.93" width="15.89" height="1.71" fill="#f6acdf"/><rect x="87.8" y="214.93" width="15.89" height="1.71" fill="#7bd6d1"/><rect x="103.67" y="214.93" width="15.89" height="1.71" fill="#e0f5f4"/><rect x="119.53" y="214.93" width="15.89" height="1.71" fill="#8bdbd7"/><rect x="40.2" y="216.62" width="15.89" height="1.71" fill="#f286d0"/><rect x="56.07" y="216.62" width="15.89" height="1.71" fill="#f283cf"/><rect x="71.93" y="216.62" width="15.89" height="1.71" fill="#f498d7"/><rect x="87.8" y="216.62" width="15.89" height="1.71" fill="#77d5d0"/><rect x="103.67" y="216.62" width="15.89" height="1.71" fill="#dcf4f3"/><rect x="119.53" y="216.62" width="15.89" height="1.71" fill="#8adbd6"/><rect x="40.2" y="218.3" width="15.89" height="1.71" fill="#f5a0da"/><rect x="56.07" y="218.3" width="15.89" height="1.71" fill="#f076ca"/><rect x="71.93" y="218.3" width="15.89" height="1.71" fill="#f6a9de"/><rect x="87.8" y="218.3" width="15.89" height="1.71" fill="#8edcd8"/><rect x="103.67" y="218.3" width="15.89" height="1.71" fill="#e1f6f5"/><rect x="119.53" y="218.3" width="15.89" height="1.71" fill="#c0ece9"/><rect x="40.2" y="219.99" width="15.89" height="1.71" fill="#f496d6"/><rect x="56.07" y="219.99" width="15.89" height="1.71" fill="#ed5bbf"/><rect x="71.93" y="219.99" width="15.89" height="1.71" fill="#f8bde5"/><rect x="87.8" y="219.99" width="15.89" height="1.71" fill="#6bd2cc"/><rect x="103.67" y="219.99" width="15.89" height="1.71" fill="#fffeff"/><rect x="119.53" y="219.99" width="15.89" height="1.71" fill="#b5e8e5"/><rect x="40.2" y="221.68" width="15.89" height="1.71" fill="#f59fda"/><rect x="56.07" y="221.68" width="15.89" height="1.71" fill="#f075c9"/><rect x="71.93" y="221.68" width="15.89" height="1.71" fill="#f7b8e3"/><rect x="87.8" y="221.68" width="15.89" height="1.71" fill="#7fd8d3"/><rect x="103.67" y="221.68" width="15.89" height="1.71" fill="#d6f2f1"/><rect x="119.53" y="221.68" width="15.89" height="1.71" fill="#96dfdb"/><rect x="40.2" y="223.36" width="15.89" height="1.71" fill="#f5a2db"/><rect x="56.07" y="223.36" width="15.89" height="1.71" fill="#f7b6e2"/><rect x="71.93" y="223.36" width="15.89" height="1.71" fill="#f6abde"/><rect x="87.8" y="223.36" width="15.89" height="1.71" fill="#37c1ba"/><rect x="103.67" y="223.36" width="15.89" height="1.71" fill="#fde9f7"/><rect x="119.53" y="223.36" width="15.89" height="1.71" fill="#b1e7e4"/><rect x="40.2" y="225.05" width="15.89" height="1.71" fill="#f7b4e2"/><rect x="56.07" y="225.05" width="15.89" height="1.71" fill="#f5a0da"/><rect x="71.93" y="225.05" width="15.89" height="1.71" fill="#f391d4"/><rect x="87.8" y="225.05" width="15.89" height="1.71" fill="#67d0ca"/><rect x="103.67" y="225.05" width="15.89" height="1.71" fill="#fef2fa"/><rect x="119.53" y="225.05" width="15.89" height="1.71" fill="#c0ece9"/><rect x="40.2" y="226.74" width="15.89" height="1.71" fill="#f7b3e1"/><rect x="56.07" y="226.74" width="15.89" height="1.71" fill="#f7b9e4"/><rect x="71.93" y="226.74" width="15.89" height="1.71" fill="#f49dd9"/><rect x="87.8" y="226.74" width="15.89" height="1.71" fill="#60cec8"/><rect x="103.67" y="226.74" width="15.89" height="1.71" fill="#fef7fc"/><rect x="119.53" y="226.74" width="15.89" height="1.71" fill="#a5e3e0"/><rect x="40.2" y="228.42" width="15.89" height="1.71" fill="#f7b8e3"/><rect x="56.07" y="228.42" width="15.89" height="1.71" fill="#f7b4e2"/><rect x="71.93" y="228.42" width="15.89" height="1.71" fill="#f49bd8"/><rect x="87.8" y="228.42" width="15.89" height="1.71" fill="#52cac3"/><rect x="103.67" y="228.42" width="15.89" height="1.71" fill="#e0f5f4"/><rect x="119.53" y="228.42" width="15.89" height="1.71" fill="#95deda"/><rect x="40.2" y="230.11" width="15.89" height="1.71" fill="#f6aade"/><rect x="56.07" y="230.11" width="15.89" height="1.71" fill="#f6afe0"/><rect x="71.93" y="230.11" width="15.89" height="1.71" fill="#f38ed3"/><rect x="87.8" y="230.11" width="15.89" height="1.71" fill="#41c5bd"/><rect x="103.67" y="230.11" width="15.89" height="1.71" fill="#f8fdfd"/><rect x="119.53" y="230.11" width="15.89" height="1.71" fill="#b9e9e7"/><rect x="40.2" y="231.79" width="15.89" height="1.71" fill="#faceec"/><rect x="56.07" y="231.79" width="15.89" height="1.71" fill="#f8c0e6"/><rect x="71.93" y="231.79" width="15.89" height="1.71" fill="#f7b2e1"/><rect x="87.8" y="231.79" width="15.89" height="1.71" fill="#76d5d0"/><rect x="103.67" y="231.79" width="15.89" height="1.71" fill="#ffffff"/><rect x="119.53" y="231.79" width="15.89" height="1.71" fill="#a0e2de"/><rect x="40.2" y="233.48" width="15.89" height="1.71" fill="#f495d6"/><rect x="56.07" y="233.48" width="15.89" height="1.71" fill="#f38dd3"/><rect x="71.93" y="233.48" width="15.89" height="1.71" fill="#f072c8"/><rect x="87.8" y="233.48" width="15.89" height="1.71" fill="#81d8d4"/><rect x="103.67" y="233.48" width="15.89" height="1.71" fill="#d2f1ef"/><rect x="119.53" y="233.48" width="15.89" height="1.71" fill="#d4f2f0"/><rect x="40.2" y="235.17" width="15.89" height="1.71" fill="#f28bd2"/><rect x="56.07" y="235.17" width="15.89" height="1.71" fill="#f17fcd"/><rect x="71.93" y="235.17" width="15.89" height="1.71" fill="#ef6ec6"/><rect x="87.8" y="235.17" width="15.89" height="1.71" fill="#4ec9c2"/><rect x="103.67" y="235.17" width="15.89" height="1.71" fill="#c8eeec"/><rect x="119.53" y="235.17" width="15.89" height="1.71" fill="#d0f0ef"/><rect x="40.2" y="236.85" width="15.89" height="1.71" fill="#f495d6"/><rect x="56.07" y="236.85" width="15.89" height="1.71" fill="#f390d4"/><rect x="71.93" y="236.85" width="15.89" height="1.71" fill="#f182ce"/><rect x="87.8" y="236.85" width="15.89" height="1.71" fill="#76d5d0"/><rect x="103.67" y="236.85" width="15.89" height="1.71" fill="#c6edeb"/><rect x="119.53" y="236.85" width="15.89" height="1.71" fill="#d1f1ef"/><rect x="40.2" y="238.54" width="15.89" height="1.71" fill="#f6a9dd"/><rect x="56.07" y="238.54" width="15.89" height="1.71" fill="#f6acdf"/><rect x="71.93" y="238.54" width="15.89" height="1.71" fill="#f6afe0"/><rect x="87.8" y="238.54" width="15.89" height="1.71" fill="#4fc9c2"/><rect x="103.67" y="238.54" width="15.89" height="1.71" fill="#c6edeb"/><rect x="119.53" y="238.54" width="15.89" height="1.71" fill="#b4e8e5"/><rect x="40.2" y="240.23" width="15.89" height="1.71" fill="#f7b4e2"/><rect x="56.07" y="240.23" width="15.89" height="1.71" fill="#f7b7e3"/><rect x="71.93" y="240.23" width="15.89" height="1.71" fill="#f6abde"/><rect x="87.8" y="240.23" width="15.89" height="1.71" fill="#64cfc9"/><rect x="103.67" y="240.23" width="15.89" height="1.71" fill="#f3fbfb"/><rect x="119.53" y="240.23" width="15.89" height="1.71" fill="#d1f1ef"/><rect x="40.2" y="241.91" width="15.89" height="1.71" fill="#f5a4dc"/><rect x="56.07" y="241.91" width="15.89" height="1.71" fill="#f5a0da"/><rect x="71.93" y="241.91" width="15.89" height="1.71" fill="#f7b3e1"/><rect x="87.8" y="241.91" width="15.89" height="1.71" fill="#60cec8"/><rect x="103.67" y="241.91" width="15.89" height="1.71" fill="#c9eeec"/><rect x="119.53" y="241.91" width="15.89" height="1.71" fill="#c2ecea"/><path d="M23.5 64.6H31.4M31.4 47.41H35.62M35.62 45.12H40.1M35.62 49.7H35.75M35.75 46.17H40.1M35.75 53.22H35.89M35.89 51.38H36.52M36.52 49.77H36.73M36.73 48.13H36.83M36.83 47.22H40.1M36.83 49.05H38.19M38.19 48.27H40.1M38.19 49.84H38.47M38.47 49.31H40.1M38.47 50.36H40.1M38.47 49.31V50.36M38.19 48.27V49.84M36.83 47.22V49.05M36.73 51.41H40.1M36.73 48.13V51.41M36.52 52.98H38.5M38.5 52.46H40.1M38.5 53.5H40.1M38.5 52.46V53.5M36.52 49.77V52.98M35.89 55.07H38.77M38.77 54.55H40.1M38.77 55.6H40.1M38.77 54.55V55.6M35.89 51.38V55.07M35.75 46.17V53.22M35.62 45.12V49.7M31.4 81.8H31.66M31.66 64H32.9M32.9 57.56H37.17M37.17 56.64H40.1M37.17 58.48H38.06M38.06 57.69H40.1M38.06 59.26H38.8M38.8 58.74H40.1M38.8 59.79H40.1M38.8 58.74V59.79M38.06 57.69V59.26M37.17 56.64V58.48M32.9 70.43H34.72M34.72 63.88H35.87M35.87 61.36H38.69M38.69 60.83H40.1M38.69 61.88H40.1M38.69 60.83V61.88M35.87 66.4H36.58M36.58 64.63H36.77M36.77 63.45H38.5M38.5 62.93H40.1M38.5 63.98H40.1M38.5 62.93V63.98M36.77 65.81H37.72M37.72 65.02H40.1M37.72 66.59H38.95M38.95 66.07H40.1M38.95 67.12H40.1M38.95 66.07V67.12M37.72 65.02V66.59M36.77 63.45V65.81M36.58 68.17H40.1M36.58 64.63V68.17M35.87 61.36V66.4M34.72 76.98H35.22M35.22 72.71H35.37M35.37 69.21H40.1M35.37 76.2H35.51M35.51 73.24H36.32M36.32 70.78H38.39M38.39 70.26H40.1M38.39 71.31H40.1M38.39 70.26V71.31M36.32 75.69H37.11M37.11 74.32H37.2M37.2 73.14H38.07M38.07 72.36H40.1M38.07 73.93H38.59M38.59 73.4H40.1M38.59 74.45H40.1M38.59 73.4V74.45M38.07 72.36V73.93M37.2 75.5H40.1M37.2 73.14V75.5M37.11 77.07H38.67M38.67 76.54H40.1M38.67 77.59H40.1M38.67 76.54V77.59M37.11 74.32V77.07M36.32 70.78V75.69M35.51 79.16H38.71M38.71 78.64H40.1M38.71 79.69H40.1M38.71 78.64V79.69M35.51 73.24V79.16M35.37 69.21V76.2M35.22 81.26H38.93M38.93 80.73H40.1M38.93 81.78H40.1M38.93 80.73V81.78M35.22 72.71V81.26M34.72 63.88V76.98M32.9 57.56V70.43M31.66 99.6H33.29M33.29 89.08H33.81M33.81 84.14H37.86M37.86 83.35H38.48M38.48 82.83H40.1M38.48 83.88H40.1M38.48 82.83V83.88M37.86 84.92H40.1M37.86 83.35V84.92M33.81 94.02H35.1M35.1 90.42H36.16M36.16 88.07H36.71M36.71 86.49H38.53M38.53 85.97H40.1M38.53 87.02H40.1M38.53 85.97V87.02M36.71 89.64H37.21M37.21 88.59H38.83M38.83 88.07H40.1M38.83 89.11H40.1M38.83 88.07V89.11M37.21 90.68H38.56M38.56 90.16H40.1M38.56 91.21H40.1M38.56 90.16V91.21M37.21 88.59V90.68M36.71 86.49V89.64M36.16 92.78H38.78M38.78 92.26H40.1M38.78 93.3H40.1M38.78 92.26V93.3M36.16 88.07V92.78M35.1 97.62H36.02M36.02 95.66H36.45M36.45 94.35H40.1M36.45 96.97H36.68M36.68 95.92H38.51M38.51 95.4H40.1M38.51 96.44H40.1M38.51 95.4V96.44M36.68 98.02H38.79M38.79 97.49H40.1M38.79 98.54H40.1M38.79 97.49V98.54M36.68 95.92V98.02M36.45 94.35V96.97M36.02 99.59H40.1M36.02 95.66V99.59M35.1 90.42V97.62M33.81 84.14V94.02M33.29 110.12H34.42M34.42 107.03H35.47M35.47 105.58H36.23M36.23 104.23H36.35M36.35 102.6H36.48M36.48 101.16H38.81M38.81 100.63H40.1M38.81 101.68H40.1M38.81 100.63V101.68M36.48 104.04H38.07M38.07 103.25H38.6M38.6 102.73H40.1M38.6 103.78H40.1M38.6 102.73V103.78M38.07 104.82H40.1M38.07 103.25V104.82M36.48 101.16V104.04M36.35 105.87H40.1M36.35 102.6V105.87M36.23 106.92H40.1M36.23 104.23V106.92M35.47 108.49H38.6M38.6 107.97H40.1M38.6 109.01H40.1M38.6 107.97V109.01M35.47 105.58V108.49M34.42 113.2H35.75M35.75 111.63H36.79M36.79 110.58H38.53M38.53 110.06H40.1M38.53 111.11H40.1M38.53 110.06V111.11M36.79 112.68H38.46M38.46 112.16H40.1M38.46 113.2H40.1M38.46 112.16V113.2M36.79 110.58V112.68M35.75 114.77H38.73M38.73 114.25H40.1M38.73 115.3H40.1M38.73 114.25V115.3M35.75 111.63V114.77M34.42 107.03V113.2M33.29 89.08V110.12M31.66 64V99.6M31.4 47.41V81.8M23.5 164.26H31.4M31.4 129.8H34M34 123.87H34.55M34.55 120.73H36.64M36.64 118.57H37.64M37.64 117.13H38.04M38.04 116.34H40.1M38.04 117.92H38.94M38.94 117.39H40.1M38.94 118.44H40.1M38.94 117.39V118.44M38.04 116.34V117.92M37.64 120.01H38.63M38.63 119.49H40.1M38.63 120.53H40.1M38.63 119.49V120.53M37.64 117.13V120.01M36.64 122.89H37.76M37.76 122.11H38.66M38.66 121.58H40.1M38.66 122.63H40.1M38.66 121.58V122.63M37.76 123.68H40.1M37.76 122.11V123.68M36.64 118.57V122.89M34.55 127.01H36.39M36.39 125.25H38.88M38.88 124.72H40.1M38.88 125.77H40.1M38.88 124.72V125.77M36.39 128.78H37.47M37.47 127.6H38.2M38.2 126.82H40.1M38.2 128.39H38.76M38.76 127.87H40.1M38.76 128.91H40.1M38.76 127.87V128.91M38.2 126.82V128.39M37.47 129.96H40.1M37.47 127.6V129.96M36.39 125.25V128.78M34.55 120.73V127.01M34 135.72H36.39M36.39 133.23H37.35M37.35 131.79H38.47M38.47 131.01H40.1M38.47 132.58H38.79M38.79 132.06H40.1M38.79 133.1H40.1M38.79 132.06V133.1M38.47 131.01V132.58M37.35 134.67H38.95M38.95 134.15H40.1M38.95 135.2H40.1M38.95 134.15V135.2M37.35 131.79V134.67M36.39 138.21H37.35M37.35 137.03H38.17M38.17 136.24H40.1M38.17 137.82H38.66M38.66 137.29H40.1M38.66 138.34H40.1M38.66 137.29V138.34M38.17 136.24V137.82M37.35 139.39H40.1M37.35 137.03V139.39M36.39 133.23V138.21M34 123.87V135.72M31.4 198.73H31.66M31.66 162.59H31.92M31.92 150.73H36.24M36.24 149.51H36.35M36.35 148.11H36.59M36.59 146.36H36.69M36.69 144.43H36.79M36.79 142.66H36.89M36.89 141.22H37.92M37.92 140.43H40.1M37.92 142.01H38.96M38.96 141.48H40.1M38.96 142.53H40.1M38.96 141.48V142.53M37.92 140.43V142.01M36.89 144.1H38.63M38.63 143.58H40.1M38.63 144.62H40.1M38.63 143.58V144.62M36.89 141.22V144.1M36.79 146.19H38.76M38.76 145.67H40.1M38.76 146.72H40.1M38.76 145.67V146.72M36.79 142.66V146.19M36.69 148.29H38.87M38.87 147.77H40.1M38.87 148.81H40.1M38.87 147.77V148.81M36.69 144.43V148.29M36.59 149.86H40.1M36.59 146.36V149.86M36.35 150.91H40.1M36.35 148.11V150.91M36.24 151.96H40.1M36.24 149.51V151.96M31.92 174.46H32.16M32.16 161.85H34.86M34.86 158.92H36.59M36.59 155.93H36.69M36.69 153H40.1M36.69 158.86H36.8M36.8 157.39H37.12M37.12 156.01H37.68M37.68 154.84H38.08M38.08 154.05H40.1M38.08 155.62H38.88M38.88 155.1H40.1M38.88 156.14H40.1M38.88 155.1V156.14M38.08 154.05V155.62M37.68 157.19H40.1M37.68 154.84V157.19M37.12 158.76H38.79M38.79 158.24H40.1M38.79 159.29H40.1M38.79 158.24V159.29M37.12 156.01V158.76M36.8 160.33H40.1M36.8 157.39V160.33M36.69 153V158.86M36.59 161.91H38.76M38.76 161.38H40.1M38.76 162.43H40.1M38.76 161.38V162.43M36.59 155.93V161.91M34.86 164.79H38.01M38.01 164H38.67M38.67 163.48H40.1M38.67 164.52H40.1M38.67 163.48V164.52M38.01 165.57H40.1M38.01 164V165.57M34.86 158.92V164.79M32.16 187.06H32.4M32.4 170.09H36.75M36.75 167.8H37.82M37.82 166.62H40.1M37.82 168.97H38.46M38.46 168.19H38.93M38.93 167.67H40.1M38.93 168.71H40.1M38.93 167.67V168.71M38.46 169.76H40.1M38.46 168.19V169.76M37.82 166.62V168.97M36.75 172.38H38.06M38.06 171.33H38.62M38.62 170.81H40.1M38.62 171.86H40.1M38.62 170.81V171.86M38.06 173.43H38.87M38.87 172.9H40.1M38.87 173.95H40.1M38.87 172.9V173.95M38.06 171.33V173.43M36.75 167.8V172.38M32.4 204.04H34.05M34.05 192.7H34.24M34.24 184.45H34.41M34.41 180.68H35.4M35.4 177.45H36.17M36.17 175.52H38.67M38.67 175H40.1M38.67 176.04H40.1M38.67 175V176.04M36.17 179.38H37.12M37.12 177.62H39M39 177.09H40.1M39 178.14H40.1M39 177.09V178.14M37.12 181.15H38.07M38.07 179.97H38.21M38.21 179.19H40.1M38.21 180.76H38.87M38.87 180.23H40.1M38.87 181.28H40.1M38.87 180.23V181.28M38.21 179.19V180.76M38.07 182.33H40.1M38.07 179.97V182.33M37.12 177.62V181.15M36.17 175.52V179.38M35.4 183.9H38.64M38.64 183.38H40.1M38.64 184.42H40.1M38.64 183.38V184.42M35.4 177.45V183.9M34.41 188.22H36.8M36.8 186.26H38M38 185.47H40.1M38 187.04H38.9M38.9 186.52H40.1M38.9 187.57H40.1M38.9 186.52V187.57M38 185.47V187.04M36.8 190.18H37.5M37.5 189.14H38.82M38.82 188.61H40.1M38.82 189.66H40.1M38.82 188.61V189.66M37.5 191.23H38.96M38.96 190.71H40.1M38.96 191.76H40.1M38.96 190.71V191.76M37.5 189.14V191.23M36.8 186.26V190.18M34.41 180.68V188.22M34.24 200.95H34.9M34.9 197.25H36.2M36.2 194.9H36.45M36.45 193.33H38.88M38.88 192.8H40.1M38.88 193.85H40.1M38.88 192.8V193.85M36.45 196.47H37.99M37.99 195.42H38.65M38.65 194.9H40.1M38.65 195.94H40.1M38.65 194.9V195.94M37.99 197.52H38.77M38.77 196.99H40.1M38.77 198.04H40.1M38.77 196.99V198.04M37.99 195.42V197.52M36.45 193.33V196.47M36.2 199.61H39.04M39.04 199.09H40.1M39.04 200.13H40.1M39.04 199.09V200.13M36.2 194.9V199.61M34.9 204.65H37.13M37.13 202.88H37.38M37.38 201.71H38.65M38.65 201.18H40.1M38.65 202.23H40.1M38.65 201.18V202.23M37.38 204.06H38.3M38.3 203.28H40.1M38.3 204.85H38.78M38.78 204.32H40.1M38.78 205.37H40.1M38.78 204.32V205.37M38.3 203.28V204.85M37.38 201.71V204.06M37.13 206.42H40.1M37.13 202.88V206.42M34.9 197.25V204.65M34.24 184.45V200.95M34.05 215.38H35.35M35.35 209.04H37.55M37.55 207.99H38.83M38.83 207.47H40.1M38.83 208.51H40.1M38.83 207.47V208.51M37.55 210.08H39.07M39.07 209.56H40.1M39.07 210.61H40.1M39.07 209.56V210.61M37.55 207.99V210.08M35.35 221.72H35.98M35.98 217.74H36.63M36.63 215.98H36.92M36.92 214.54H37.22M37.22 213.23H37.63M37.63 212.18H38.96M38.96 211.66H40.1M38.96 212.7H40.1M38.96 211.66V212.7M37.63 214.27H38.62M38.62 213.75H40.1M38.62 214.8H40.1M38.62 213.75V214.8M37.63 212.18V214.27M37.22 215.84H40.1M37.22 213.23V215.84M36.92 217.42H39.07M39.07 216.89H40.1M39.07 217.94H40.1M39.07 216.89V217.94M36.92 214.54V217.42M36.63 219.51H38.84M38.84 218.99H40.1M38.84 220.03H40.1M38.84 218.99V220.03M36.63 215.98V219.51M35.98 225.7H36.1M36.1 223.5H36.7M36.7 221.61H38.65M38.65 221.08H40.1M38.65 222.13H40.1M38.65 221.08V222.13M36.7 225.4H37.09M37.09 224.49H37.74M37.74 223.7H38.99M38.99 223.18H40.1M38.99 224.22H40.1M38.99 223.18V224.22M37.74 225.27H40.1M37.74 223.7V225.27M37.09 226.32H40.1M37.09 224.49V226.32M36.7 221.61V225.4M36.1 227.89H38.75M38.75 227.37H40.1M38.75 228.41H40.1M38.75 227.37V228.41M36.1 223.5V227.89M35.98 217.74V225.7M35.35 209.04V221.72M34.05 192.7V215.38M32.4 170.09V204.04M32.16 161.85V187.06M31.92 150.73V174.46M31.66 234.87H35.7M35.7 230.64H37.38M37.38 229.46H40.1M37.38 231.82H38.42M38.42 231.03H39.04M39.04 230.51H40.1M39.04 231.56H40.1M39.04 230.51V231.56M38.42 232.6H40.1M38.42 231.03V232.6M37.38 229.46V231.82M35.7 239.1H35.84M35.84 235.65H35.96M35.96 234.17H39.09M39.09 233.65H40.1M39.09 234.7H40.1M39.09 233.65V234.7M35.96 237.12H36.3M36.3 235.74H40.1M36.3 238.49H36.8M36.8 237.32H38.62M38.62 236.79H40.1M38.62 237.84H40.1M38.62 236.79V237.84M36.8 239.67H38.31M38.31 238.89H40.1M38.31 240.46H38.71M38.71 239.93H40.1M38.71 240.98H40.1M38.71 239.93V240.98M38.31 238.89V240.46M36.8 237.32V239.67M36.3 235.74V238.49M35.96 234.17V237.12M35.84 242.55H38.94M38.94 242.03H40.1M38.94 243.08H40.1M38.94 242.03V243.08M35.84 235.65V242.55M35.7 230.64V239.1M31.66 162.59V234.87M31.4 129.8V198.73M23.5 64.6V164.26" fill="none" stroke="#555" stroke-width="0.6"/><path d="M60.03 18.7H107.63M60.03 18.7V37.1M48.13 37.1H71.93M48.13 37.1V44.6M71.93 37.1V37.9M64 37.9H79.87M64 37.9V44.6M79.87 37.9V44.6M107.63 18.7V33.4M95.73 33.4H119.53M95.73 33.4V44.6M119.53 33.4V38.5M111.6 38.5H127.47M111.6 38.5V44.6M127.47 38.5V44.6" fill="none" stroke="#777" stroke-width="0.7"/><text x="85" y="16.3" font-size="8.7" text-anchor="middle" fill="#141414">Proteome</text><defs><linearGradient id="gA" x1="0" y1="0" x2="0" y2="1"><stop offset="0" stop-color="#e82aac"/><stop offset="0.5" stop-color="#ffffff"/><stop offset="1" stop-color="#2cbeb6"/></linearGradient><linearGradient id="gC" x1="0" y1="0" x2="0" y2="1"><stop offset="0" stop-color="#870020"/><stop offset="0.1" stop-color="#b2182b"/><stop offset="0.2" stop-color="#d6604d"/><stop offset="0.3" stop-color="#f4a582"/><stop offset="0.4" stop-color="#fddbc7"/><stop offset="0.5" stop-color="#f7f7f7"/><stop offset="0.6" stop-color="#d1e5f0"/><stop offset="0.7" stop-color="#92c5de"/><stop offset="0.8" stop-color="#4896c8"/><stop offset="0.9" stop-color="#2874ba"/><stop offset="1" stop-color="#165ca5"/></linearGradient></defs><rect x="136.8" y="44.5" width="3.3" height="72.5" fill="url(#gA)"/><g font-size="7" fill="#141414"><text x="141.4" y="54.6">1</text><text x="141.2" y="114.5">−1</text><text transform="translate(148,81.3) rotate(-90)" text-anchor="middle">Z-score</text></g><path d="M43.4 244.9V249H84.5V244.9M90.3 244.9V249H131.8V244.9" fill="none" stroke="#777" stroke-width="0.7"/><g font-size="7" fill="#141414" text-anchor="middle"><text x="62.2" y="256.5">normoxia</text><text x="111.2" y="256.5">hypoxia</text></g><rect x="42.2" y="316.4" width="15.17" height="1.61" fill="#f9ece4"/><rect x="57.35" y="316.4" width="15.17" height="1.61" fill="#3986c1"/><rect x="72.5" y="316.4" width="15.17" height="1.61" fill="#89bfdb"/><rect x="87.65" y="316.4" width="15.17" height="1.61" fill="#d35a4a"/><rect x="102.8" y="316.4" width="15.17" height="1.61" fill="#f4a886"/><rect x="117.95" y="316.4" width="15.17" height="1.61" fill="#c94741"/><rect x="42.2" y="317.99" width="15.17" height="1.61" fill="#e3edf3"/><rect x="57.35" y="317.99" width="15.17" height="1.61" fill="#3885c1"/><rect x="72.5" y="317.99" width="15.17" height="1.61" fill="#66a9d1"/><rect x="87.65" y="317.99" width="15.17" height="1.61" fill="#de735c"/><rect x="102.8" y="317.99" width="15.17" height="1.61" fill="#f9c2a7"/><rect x="117.95" y="317.99" width="15.17" height="1.61" fill="#bb2a34"/><rect x="42.2" y="319.58" width="15.17" height="1.61" fill="#ddeaf2"/><rect x="57.35" y="319.58" width="15.17" height="1.61" fill="#4492c6"/><rect x="72.5" y="319.58" width="15.17" height="1.61" fill="#72b1d5"/><rect x="87.65" y="319.58" width="15.17" height="1.61" fill="#f5ab8a"/><rect x="102.8" y="319.58" width="15.17" height="1.61" fill="#f2a07e"/><rect x="117.95" y="319.58" width="15.17" height="1.61" fill="#bc2d35"/><rect x="42.2" y="321.18" width="15.17" height="1.61" fill="#c2ddec"/><rect x="57.35" y="321.18" width="15.17" height="1.61" fill="#4e9aca"/><rect x="72.5" y="321.18" width="15.17" height="1.61" fill="#b6d7e8"/><rect x="87.65" y="321.18" width="15.17" height="1.61" fill="#ed9676"/><rect x="102.8" y="321.18" width="15.17" height="1.61" fill="#de735c"/><rect x="117.95" y="321.18" width="15.17" height="1.61" fill="#c94540"/><rect x="42.2" y="322.77" width="15.17" height="1.61" fill="#b2d5e7"/><rect x="57.35" y="322.77" width="15.17" height="1.61" fill="#6bacd2"/><rect x="72.5" y="322.77" width="15.17" height="1.61" fill="#98c8e0"/><rect x="87.65" y="322.77" width="15.17" height="1.61" fill="#f09c7b"/><rect x="102.8" y="322.77" width="15.17" height="1.61" fill="#d55e4c"/><rect x="117.95" y="322.77" width="15.17" height="1.61" fill="#c84540"/><rect x="42.2" y="324.36" width="15.17" height="1.61" fill="#cce2ef"/><rect x="57.35" y="324.36" width="15.17" height="1.61" fill="#549dcb"/><rect x="72.5" y="324.36" width="15.17" height="1.61" fill="#60a5cf"/><rect x="87.65" y="324.36" width="15.17" height="1.61" fill="#f19d7c"/><rect x="102.8" y="324.36" width="15.17" height="1.61" fill="#d86551"/><rect x="117.95" y="324.36" width="15.17" height="1.61" fill="#d2594a"/><rect x="42.2" y="325.95" width="15.17" height="1.61" fill="#cee4ef"/><rect x="57.35" y="325.95" width="15.17" height="1.61" fill="#3c8ac3"/><rect x="72.5" y="325.95" width="15.17" height="1.61" fill="#add3e6"/><rect x="87.65" y="325.95" width="15.17" height="1.61" fill="#fcdecd"/><rect x="102.8" y="325.95" width="15.17" height="1.61" fill="#d35b4a"/><rect x="117.95" y="325.95" width="15.17" height="1.61" fill="#e0775e"/><rect x="42.2" y="327.55" width="15.17" height="1.61" fill="#8ec2dd"/><rect x="57.35" y="327.55" width="15.17" height="1.61" fill="#7eb8d8"/><rect x="72.5" y="327.55" width="15.17" height="1.61" fill="#bddbea"/><rect x="87.65" y="327.55" width="15.17" height="1.61" fill="#f8bb9e"/><rect x="102.8" y="327.55" width="15.17" height="1.61" fill="#d55d4c"/><rect x="117.95" y="327.55" width="15.17" height="1.61" fill="#de725b"/><rect x="42.2" y="329.14" width="15.17" height="1.61" fill="#99c9e0"/><rect x="57.35" y="329.14" width="15.17" height="1.61" fill="#4f9bca"/><rect x="72.5" y="329.14" width="15.17" height="1.61" fill="#80bad9"/><rect x="87.65" y="329.14" width="15.17" height="1.61" fill="#f7b597"/><rect x="102.8" y="329.14" width="15.17" height="1.61" fill="#e98d6f"/><rect x="117.95" y="329.14" width="15.17" height="1.61" fill="#cb4b43"/><rect x="42.2" y="330.73" width="15.17" height="1.61" fill="#86bedb"/><rect x="57.35" y="330.73" width="15.17" height="1.61" fill="#c3deec"/><rect x="72.5" y="330.73" width="15.17" height="1.61" fill="#d3e6f0"/><rect x="87.65" y="330.73" width="15.17" height="1.61" fill="#fcdfcd"/><rect x="102.8" y="330.73" width="15.17" height="1.61" fill="#fdddcb"/><rect x="117.95" y="330.73" width="15.17" height="1.61" fill="#b92732"/><rect x="42.2" y="332.32" width="15.17" height="1.61" fill="#9ecbe1"/><rect x="57.35" y="332.32" width="15.17" height="1.61" fill="#89bfdb"/><rect x="72.5" y="332.32" width="15.17" height="1.61" fill="#c4dfec"/><rect x="87.65" y="332.32" width="15.17" height="1.61" fill="#f9c5ab"/><rect x="102.8" y="332.32" width="15.17" height="1.61" fill="#f8bc9f"/><rect x="117.95" y="332.32" width="15.17" height="1.61" fill="#b51e2e"/><rect x="42.2" y="333.91" width="15.17" height="1.61" fill="#afd4e6"/><rect x="57.35" y="333.91" width="15.17" height="1.61" fill="#99c9e0"/><rect x="72.5" y="333.91" width="15.17" height="1.61" fill="#d0e5f0"/><rect x="87.65" y="333.91" width="15.17" height="1.61" fill="#fdddca"/><rect x="102.8" y="333.91" width="15.17" height="1.61" fill="#ee9878"/><rect x="117.95" y="333.91" width="15.17" height="1.61" fill="#b31a2c"/><rect x="42.2" y="335.51" width="15.17" height="1.61" fill="#a9d0e4"/><rect x="57.35" y="335.51" width="15.17" height="1.61" fill="#dae9f2"/><rect x="72.5" y="335.51" width="15.17" height="1.61" fill="#4896c8"/><rect x="87.65" y="335.51" width="15.17" height="1.61" fill="#d96652"/><rect x="102.8" y="335.51" width="15.17" height="1.61" fill="#fbe2d4"/><rect x="117.95" y="335.51" width="15.17" height="1.61" fill="#a31027"/><rect x="42.2" y="337.1" width="15.17" height="1.61" fill="#92c5de"/><rect x="57.35" y="337.1" width="15.17" height="1.61" fill="#d8e8f1"/><rect x="72.5" y="337.1" width="15.17" height="1.61" fill="#549dcb"/><rect x="87.65" y="337.1" width="15.17" height="1.61" fill="#cf5246"/><rect x="102.8" y="337.1" width="15.17" height="1.61" fill="#fcd7c2"/><rect x="117.95" y="337.1" width="15.17" height="1.61" fill="#c03438"/><rect x="42.2" y="338.69" width="15.17" height="1.61" fill="#cce3ef"/><rect x="57.35" y="338.69" width="15.17" height="1.61" fill="#d6e7f1"/><rect x="72.5" y="338.69" width="15.17" height="1.61" fill="#5aa2cd"/><rect x="87.65" y="338.69" width="15.17" height="1.61" fill="#d05347"/><rect x="102.8" y="338.69" width="15.17" height="1.61" fill="#fbe4d7"/><rect x="117.95" y="338.69" width="15.17" height="1.61" fill="#b6202f"/><rect x="42.2" y="340.28" width="15.17" height="1.61" fill="#c7e0ed"/><rect x="57.35" y="340.28" width="15.17" height="1.61" fill="#d7e8f1"/><rect x="72.5" y="340.28" width="15.17" height="1.61" fill="#96c7df"/><rect x="87.65" y="340.28" width="15.17" height="1.61" fill="#890121"/><rect x="102.8" y="340.28" width="15.17" height="1.61" fill="#fddbc8"/><rect x="117.95" y="340.28" width="15.17" height="1.61" fill="#e48066"/><rect x="42.2" y="341.88" width="15.17" height="1.61" fill="#cce2ee"/><rect x="57.35" y="341.88" width="15.17" height="1.61" fill="#d7e8f1"/><rect x="72.5" y="341.88" width="15.17" height="1.61" fill="#5ea4ce"/><rect x="87.65" y="341.88" width="15.17" height="1.61" fill="#8a0121"/><rect x="102.8" y="341.88" width="15.17" height="1.61" fill="#fcd3bc"/><rect x="117.95" y="341.88" width="15.17" height="1.61" fill="#db6d57"/><rect x="42.2" y="343.47" width="15.17" height="1.61" fill="#d0e4f0"/><rect x="57.35" y="343.47" width="15.17" height="1.61" fill="#cce3ef"/><rect x="72.5" y="343.47" width="15.17" height="1.61" fill="#aed3e6"/><rect x="87.65" y="343.47" width="15.17" height="1.61" fill="#870020"/><rect x="102.8" y="343.47" width="15.17" height="1.61" fill="#f9c6ac"/><rect x="117.95" y="343.47" width="15.17" height="1.61" fill="#db6b55"/><rect x="42.2" y="345.06" width="15.17" height="1.61" fill="#d1e5f0"/><rect x="57.35" y="345.06" width="15.17" height="1.61" fill="#b4d6e8"/><rect x="72.5" y="345.06" width="15.17" height="1.61" fill="#85bdda"/><rect x="87.65" y="345.06" width="15.17" height="1.61" fill="#9d0c26"/><rect x="102.8" y="345.06" width="15.17" height="1.61" fill="#fdd8c4"/><rect x="117.95" y="345.06" width="15.17" height="1.61" fill="#cd4e44"/><rect x="42.2" y="346.65" width="15.17" height="1.61" fill="#cce3ef"/><rect x="57.35" y="346.65" width="15.17" height="1.61" fill="#a6cfe4"/><rect x="72.5" y="346.65" width="15.17" height="1.61" fill="#bddbea"/><rect x="87.65" y="346.65" width="15.17" height="1.61" fill="#870020"/><rect x="102.8" y="346.65" width="15.17" height="1.61" fill="#fcd3bd"/><rect x="117.95" y="346.65" width="15.17" height="1.61" fill="#f6b495"/><rect x="42.2" y="348.24" width="15.17" height="1.61" fill="#b8d8e9"/><rect x="57.35" y="348.24" width="15.17" height="1.61" fill="#8ac0dc"/><rect x="72.5" y="348.24" width="15.17" height="1.61" fill="#c0dceb"/><rect x="87.65" y="348.24" width="15.17" height="1.61" fill="#870020"/><rect x="102.8" y="348.24" width="15.17" height="1.61" fill="#fbd0b9"/><rect x="117.95" y="348.24" width="15.17" height="1.61" fill="#f6b495"/><rect x="42.2" y="349.84" width="15.17" height="1.61" fill="#d3e6f0"/><rect x="57.35" y="349.84" width="15.17" height="1.61" fill="#7db8d8"/><rect x="72.5" y="349.84" width="15.17" height="1.61" fill="#cee3ef"/><rect x="87.65" y="349.84" width="15.17" height="1.61" fill="#8c0321"/><rect x="102.8" y="349.84" width="15.17" height="1.61" fill="#fbd1ba"/><rect x="117.95" y="349.84" width="15.17" height="1.61" fill="#fbcfb7"/><rect x="42.2" y="351.43" width="15.17" height="1.61" fill="#a3cee3"/><rect x="57.35" y="351.43" width="15.17" height="1.61" fill="#a4cee3"/><rect x="72.5" y="351.43" width="15.17" height="1.61" fill="#74b2d5"/><rect x="87.65" y="351.43" width="15.17" height="1.61" fill="#950823"/><rect x="102.8" y="351.43" width="15.17" height="1.61" fill="#f7b698"/><rect x="117.95" y="351.43" width="15.17" height="1.61" fill="#f5ab8a"/><rect x="42.2" y="353.02" width="15.17" height="1.61" fill="#b9d9e9"/><rect x="57.35" y="353.02" width="15.17" height="1.61" fill="#9ac9e0"/><rect x="72.5" y="353.02" width="15.17" height="1.61" fill="#6bacd2"/><rect x="87.65" y="353.02" width="15.17" height="1.61" fill="#910623"/><rect x="102.8" y="353.02" width="15.17" height="1.61" fill="#fbd1bb"/><rect x="117.95" y="353.02" width="15.17" height="1.61" fill="#f7b99b"/><rect x="42.2" y="354.61" width="15.17" height="1.61" fill="#c1ddeb"/><rect x="57.35" y="354.61" width="15.17" height="1.61" fill="#9ecbe1"/><rect x="72.5" y="354.61" width="15.17" height="1.61" fill="#6cadd3"/><rect x="87.65" y="354.61" width="15.17" height="1.61" fill="#930723"/><rect x="102.8" y="354.61" width="15.17" height="1.61" fill="#f6ae8e"/><rect x="117.95" y="354.61" width="15.17" height="1.61" fill="#f7b597"/><rect x="42.2" y="356.2" width="15.17" height="1.61" fill="#a6cfe4"/><rect x="57.35" y="356.2" width="15.17" height="1.61" fill="#73b2d5"/><rect x="72.5" y="356.2" width="15.17" height="1.61" fill="#ebf1f5"/><rect x="87.65" y="356.2" width="15.17" height="1.61" fill="#870020"/><rect x="102.8" y="356.2" width="15.17" height="1.61" fill="#f8bfa3"/><rect x="117.95" y="356.2" width="15.17" height="1.61" fill="#f5a886"/><rect x="42.2" y="357.8" width="15.17" height="1.61" fill="#60a5cf"/><rect x="57.35" y="357.8" width="15.17" height="1.61" fill="#69abd2"/><rect x="72.5" y="357.8" width="15.17" height="1.61" fill="#fae9df"/><rect x="87.65" y="357.8" width="15.17" height="1.61" fill="#9d0c26"/><rect x="102.8" y="357.8" width="15.17" height="1.61" fill="#fcd3bd"/><rect x="117.95" y="357.8" width="15.17" height="1.61" fill="#f3a380"/><rect x="42.2" y="359.39" width="15.17" height="1.61" fill="#a2cde2"/><rect x="57.35" y="359.39" width="15.17" height="1.61" fill="#8dc2dd"/><rect x="72.5" y="359.39" width="15.17" height="1.61" fill="#d4e7f1"/><rect x="87.65" y="359.39" width="15.17" height="1.61" fill="#9d0c26"/><rect x="102.8" y="359.39" width="15.17" height="1.61" fill="#fdd9c5"/><rect x="117.95" y="359.39" width="15.17" height="1.61" fill="#fac6ad"/><rect x="42.2" y="360.98" width="15.17" height="1.61" fill="#9bcae1"/><rect x="57.35" y="360.98" width="15.17" height="1.61" fill="#add3e6"/><rect x="72.5" y="360.98" width="15.17" height="1.61" fill="#a7d0e4"/><rect x="87.65" y="360.98" width="15.17" height="1.61" fill="#a10e27"/><rect x="102.8" y="360.98" width="15.17" height="1.61" fill="#f8c0a4"/><rect x="117.95" y="360.98" width="15.17" height="1.61" fill="#f3a481"/><rect x="42.2" y="362.57" width="15.17" height="1.61" fill="#afd4e6"/><rect x="57.35" y="362.57" width="15.17" height="1.61" fill="#93c5de"/><rect x="72.5" y="362.57" width="15.17" height="1.61" fill="#acd2e6"/><rect x="87.65" y="362.57" width="15.17" height="1.61" fill="#9b0b25"/><rect x="102.8" y="362.57" width="15.17" height="1.61" fill="#f7b698"/><rect x="117.95" y="362.57" width="15.17" height="1.61" fill="#ef9979"/><rect x="42.2" y="364.17" width="15.17" height="1.61" fill="#9bc9e1"/><rect x="57.35" y="364.17" width="15.17" height="1.61" fill="#9fcbe2"/><rect x="72.5" y="364.17" width="15.17" height="1.61" fill="#97c8df"/><rect x="87.65" y="364.17" width="15.17" height="1.61" fill="#8c0321"/><rect x="102.8" y="364.17" width="15.17" height="1.61" fill="#f6ae8e"/><rect x="117.95" y="364.17" width="15.17" height="1.61" fill="#e0765e"/><rect x="42.2" y="365.76" width="15.17" height="1.61" fill="#f7f7f6"/><rect x="57.35" y="365.76" width="15.17" height="1.61" fill="#aad1e5"/><rect x="72.5" y="365.76" width="15.17" height="1.61" fill="#9bcae1"/><rect x="87.65" y="365.76" width="15.17" height="1.61" fill="#b1172b"/><rect x="102.8" y="365.76" width="15.17" height="1.61" fill="#cf5246"/><rect x="117.95" y="365.76" width="15.17" height="1.61" fill="#f8bb9e"/><rect x="42.2" y="367.35" width="15.17" height="1.61" fill="#d7e8f1"/><rect x="57.35" y="367.35" width="15.17" height="1.61" fill="#bedbeb"/><rect x="72.5" y="367.35" width="15.17" height="1.61" fill="#b5d7e8"/><rect x="87.65" y="367.35" width="15.17" height="1.61" fill="#b2182b"/><rect x="102.8" y="367.35" width="15.17" height="1.61" fill="#c7423f"/><rect x="117.95" y="367.35" width="15.17" height="1.61" fill="#fac9b0"/><rect x="42.2" y="368.94" width="15.17" height="1.61" fill="#c3deec"/><rect x="57.35" y="368.94" width="15.17" height="1.61" fill="#acd2e5"/><rect x="72.5" y="368.94" width="15.17" height="1.61" fill="#a4cee3"/><rect x="87.65" y="368.94" width="15.17" height="1.61" fill="#be3037"/><rect x="102.8" y="368.94" width="15.17" height="1.61" fill="#bf3237"/><rect x="117.95" y="368.94" width="15.17" height="1.61" fill="#f7ba9d"/><rect x="42.2" y="370.53" width="15.17" height="1.61" fill="#c1ddeb"/><rect x="57.35" y="370.53" width="15.17" height="1.61" fill="#84bcda"/><rect x="72.5" y="370.53" width="15.17" height="1.61" fill="#c0dceb"/><rect x="87.65" y="370.53" width="15.17" height="1.61" fill="#8d0322"/><rect x="102.8" y="370.53" width="15.17" height="1.61" fill="#f5a886"/><rect x="117.95" y="370.53" width="15.17" height="1.61" fill="#f6b293"/><rect x="42.2" y="372.13" width="15.17" height="1.61" fill="#b8d8e9"/><rect x="57.35" y="372.13" width="15.17" height="1.61" fill="#82bbd9"/><rect x="72.5" y="372.13" width="15.17" height="1.61" fill="#9ecbe1"/><rect x="87.65" y="372.13" width="15.17" height="1.61" fill="#8c0321"/><rect x="102.8" y="372.13" width="15.17" height="1.61" fill="#f6b192"/><rect x="117.95" y="372.13" width="15.17" height="1.61" fill="#e0775f"/><rect x="42.2" y="373.72" width="15.17" height="1.61" fill="#b1d5e7"/><rect x="57.35" y="373.72" width="15.17" height="1.61" fill="#88bfdb"/><rect x="72.5" y="373.72" width="15.17" height="1.61" fill="#90c4dd"/><rect x="87.65" y="373.72" width="15.17" height="1.61" fill="#870020"/><rect x="102.8" y="373.72" width="15.17" height="1.61" fill="#ef9878"/><rect x="117.95" y="373.72" width="15.17" height="1.61" fill="#e68469"/><rect x="42.2" y="375.31" width="15.17" height="1.61" fill="#539dcb"/><rect x="57.35" y="375.31" width="15.17" height="1.61" fill="#f3f5f6"/><rect x="72.5" y="375.31" width="15.17" height="1.61" fill="#7db8d8"/><rect x="87.65" y="375.31" width="15.17" height="1.61" fill="#c2383a"/><rect x="102.8" y="375.31" width="15.17" height="1.61" fill="#ac152a"/><rect x="117.95" y="375.31" width="15.17" height="1.61" fill="#fddac6"/><rect x="42.2" y="376.9" width="15.17" height="1.61" fill="#519ccb"/><rect x="57.35" y="376.9" width="15.17" height="1.61" fill="#e8f0f4"/><rect x="72.5" y="376.9" width="15.17" height="1.61" fill="#b5d7e8"/><rect x="87.65" y="376.9" width="15.17" height="1.61" fill="#bf3237"/><rect x="102.8" y="376.9" width="15.17" height="1.61" fill="#c2383a"/><rect x="117.95" y="376.9" width="15.17" height="1.61" fill="#fbe4d7"/><rect x="42.2" y="378.5" width="15.17" height="1.61" fill="#4795c8"/><rect x="57.35" y="378.5" width="15.17" height="1.61" fill="#e1edf3"/><rect x="72.5" y="378.5" width="15.17" height="1.61" fill="#7bb7d7"/><rect x="87.65" y="378.5" width="15.17" height="1.61" fill="#dd6f59"/><rect x="102.8" y="378.5" width="15.17" height="1.61" fill="#b0172a"/><rect x="117.95" y="378.5" width="15.17" height="1.61" fill="#fddcc9"/><rect x="42.2" y="380.09" width="15.17" height="1.61" fill="#418ec5"/><rect x="57.35" y="380.09" width="15.17" height="1.61" fill="#eff3f5"/><rect x="72.5" y="380.09" width="15.17" height="1.61" fill="#97c7df"/><rect x="87.65" y="380.09" width="15.17" height="1.61" fill="#d55e4c"/><rect x="102.8" y="380.09" width="15.17" height="1.61" fill="#bc2c34"/><rect x="117.95" y="380.09" width="15.17" height="1.61" fill="#facab2"/><rect x="42.2" y="381.68" width="15.17" height="1.61" fill="#e6eff4"/><rect x="57.35" y="381.68" width="15.17" height="1.61" fill="#b7d8e9"/><rect x="72.5" y="381.68" width="15.17" height="1.61" fill="#84bcda"/><rect x="87.65" y="381.68" width="15.17" height="1.61" fill="#e68569"/><rect x="102.8" y="381.68" width="15.17" height="1.61" fill="#a41027"/><rect x="117.95" y="381.68" width="15.17" height="1.61" fill="#f5aa89"/><rect x="42.2" y="383.27" width="15.17" height="1.61" fill="#c1ddeb"/><rect x="57.35" y="383.27" width="15.17" height="1.61" fill="#c2deec"/><rect x="72.5" y="383.27" width="15.17" height="1.61" fill="#4290c5"/><rect x="87.65" y="383.27" width="15.17" height="1.61" fill="#d6614e"/><rect x="102.8" y="383.27" width="15.17" height="1.61" fill="#8f0422"/><rect x="117.95" y="383.27" width="15.17" height="1.61" fill="#f9c4aa"/><rect x="42.2" y="384.86" width="15.17" height="1.61" fill="#d3e6f0"/><rect x="57.35" y="384.86" width="15.17" height="1.61" fill="#b9d9e9"/><rect x="72.5" y="384.86" width="15.17" height="1.61" fill="#3a87c2"/><rect x="87.65" y="384.86" width="15.17" height="1.61" fill="#bc2b34"/><rect x="102.8" y="384.86" width="15.17" height="1.61" fill="#970924"/><rect x="117.95" y="384.86" width="15.17" height="1.61" fill="#f4a886"/><rect x="42.2" y="386.46" width="15.17" height="1.61" fill="#f2f5f6"/><rect x="57.35" y="386.46" width="15.17" height="1.61" fill="#71b0d4"/><rect x="72.5" y="386.46" width="15.17" height="1.61" fill="#dbeaf2"/><rect x="87.65" y="386.46" width="15.17" height="1.61" fill="#fbccb4"/><rect x="102.8" y="386.46" width="15.17" height="1.61" fill="#a61128"/><rect x="117.95" y="386.46" width="15.17" height="1.61" fill="#f6b192"/><rect x="42.2" y="388.05" width="15.17" height="1.61" fill="#ebf1f5"/><rect x="57.35" y="388.05" width="15.17" height="1.61" fill="#7eb8d8"/><rect x="72.5" y="388.05" width="15.17" height="1.61" fill="#a3cde3"/><rect x="87.65" y="388.05" width="15.17" height="1.61" fill="#f9c3a8"/><rect x="102.8" y="388.05" width="15.17" height="1.61" fill="#b2182b"/><rect x="117.95" y="388.05" width="15.17" height="1.61" fill="#f19f7d"/><rect x="42.2" y="389.64" width="15.17" height="1.61" fill="#f7f5f4"/><rect x="57.35" y="389.64" width="15.17" height="1.61" fill="#80bad9"/><rect x="72.5" y="389.64" width="15.17" height="1.61" fill="#d2e5f0"/><rect x="87.65" y="389.64" width="15.17" height="1.61" fill="#f6b394"/><rect x="102.8" y="389.64" width="15.17" height="1.61" fill="#920623"/><rect x="117.95" y="389.64" width="15.17" height="1.61" fill="#ef9979"/><rect x="42.2" y="391.23" width="15.17" height="1.61" fill="#f09b7b"/><rect x="57.35" y="391.23" width="15.17" height="1.61" fill="#cb4a43"/><rect x="72.5" y="391.23" width="15.17" height="1.61" fill="#dc6f58"/><rect x="87.65" y="391.23" width="15.17" height="1.61" fill="#f9eee8"/><rect x="102.8" y="391.23" width="15.17" height="1.61" fill="#3d8ac3"/><rect x="117.95" y="391.23" width="15.17" height="1.61" fill="#7bb6d7"/><rect x="42.2" y="392.82" width="15.17" height="1.61" fill="#db6c56"/><rect x="57.35" y="392.82" width="15.17" height="1.61" fill="#c2383a"/><rect x="72.5" y="392.82" width="15.17" height="1.61" fill="#eb9172"/><rect x="87.65" y="392.82" width="15.17" height="1.61" fill="#faeae1"/><rect x="102.8" y="392.82" width="15.17" height="1.61" fill="#3e8bc3"/><rect x="117.95" y="392.82" width="15.17" height="1.61" fill="#94c6df"/><rect x="42.2" y="394.42" width="15.17" height="1.61" fill="#f8bb9e"/><rect x="57.35" y="394.42" width="15.17" height="1.61" fill="#d05548"/><rect x="72.5" y="394.42" width="15.17" height="1.61" fill="#e0785f"/><rect x="87.65" y="394.42" width="15.17" height="1.61" fill="#fdddca"/><rect x="102.8" y="394.42" width="15.17" height="1.61" fill="#3582c0"/><rect x="117.95" y="394.42" width="15.17" height="1.61" fill="#94c6df"/><rect x="42.2" y="396.01" width="15.17" height="1.61" fill="#bf3237"/><rect x="57.35" y="396.01" width="15.17" height="1.61" fill="#fcd5bf"/><rect x="72.5" y="396.01" width="15.17" height="1.61" fill="#e98c6f"/><rect x="87.65" y="396.01" width="15.17" height="1.61" fill="#abd2e5"/><rect x="102.8" y="396.01" width="15.17" height="1.61" fill="#c3deec"/><rect x="117.95" y="396.01" width="15.17" height="1.61" fill="#68aad1"/><rect x="42.2" y="397.6" width="15.17" height="1.61" fill="#b82431"/><rect x="57.35" y="397.6" width="15.17" height="1.61" fill="#f9c5ab"/><rect x="72.5" y="397.6" width="15.17" height="1.61" fill="#e48166"/><rect x="87.65" y="397.6" width="15.17" height="1.61" fill="#99c9e0"/><rect x="102.8" y="397.6" width="15.17" height="1.61" fill="#b6d7e8"/><rect x="117.95" y="397.6" width="15.17" height="1.61" fill="#8ec3dd"/><rect x="42.2" y="399.19" width="15.17" height="1.61" fill="#c7423f"/><rect x="57.35" y="399.19" width="15.17" height="1.61" fill="#ed9576"/><rect x="72.5" y="399.19" width="15.17" height="1.61" fill="#d7624e"/><rect x="87.65" y="399.19" width="15.17" height="1.61" fill="#bddbea"/><rect x="102.8" y="399.19" width="15.17" height="1.61" fill="#c8e1ee"/><rect x="117.95" y="399.19" width="15.17" height="1.61" fill="#6fafd4"/><rect x="42.2" y="400.79" width="15.17" height="1.61" fill="#d25749"/><rect x="57.35" y="400.79" width="15.17" height="1.61" fill="#eb9072"/><rect x="72.5" y="400.79" width="15.17" height="1.61" fill="#bb2b34"/><rect x="87.65" y="400.79" width="15.17" height="1.61" fill="#5ca3ce"/><rect x="102.8" y="400.79" width="15.17" height="1.61" fill="#d2e5f0"/><rect x="117.95" y="400.79" width="15.17" height="1.61" fill="#b7d8e9"/><rect x="42.2" y="402.38" width="15.17" height="1.61" fill="#cd4f45"/><rect x="57.35" y="402.38" width="15.17" height="1.61" fill="#e48065"/><rect x="72.5" y="402.38" width="15.17" height="1.61" fill="#920623"/><rect x="87.65" y="402.38" width="15.17" height="1.61" fill="#63a7d0"/><rect x="102.8" y="402.38" width="15.17" height="1.61" fill="#c0dceb"/><rect x="117.95" y="402.38" width="15.17" height="1.61" fill="#c8e0ed"/><rect x="42.2" y="403.97" width="15.17" height="1.61" fill="#ca4942"/><rect x="57.35" y="403.97" width="15.17" height="1.61" fill="#dc6f58"/><rect x="72.5" y="403.97" width="15.17" height="1.61" fill="#ad152a"/><rect x="87.65" y="403.97" width="15.17" height="1.61" fill="#60a5cf"/><rect x="102.8" y="403.97" width="15.17" height="1.61" fill="#afd4e6"/><rect x="117.95" y="403.97" width="15.17" height="1.61" fill="#d3e6f0"/><rect x="42.2" y="405.56" width="15.17" height="1.61" fill="#ab1429"/><rect x="57.35" y="405.56" width="15.17" height="1.61" fill="#be2f36"/><rect x="72.5" y="405.56" width="15.17" height="1.61" fill="#fcdfce"/><rect x="87.65" y="405.56" width="15.17" height="1.61" fill="#62a6d0"/><rect x="102.8" y="405.56" width="15.17" height="1.61" fill="#79b5d7"/><rect x="117.95" y="405.56" width="15.17" height="1.61" fill="#deebf2"/><rect x="42.2" y="407.15" width="15.17" height="1.61" fill="#ad152a"/><rect x="57.35" y="407.15" width="15.17" height="1.61" fill="#aa1329"/><rect x="72.5" y="407.15" width="15.17" height="1.61" fill="#fcd4be"/><rect x="87.65" y="407.15" width="15.17" height="1.61" fill="#5ba2ce"/><rect x="102.8" y="407.15" width="15.17" height="1.61" fill="#64a8d0"/><rect x="117.95" y="407.15" width="15.17" height="1.61" fill="#e6eff4"/><rect x="42.2" y="408.75" width="15.17" height="1.61" fill="#c33a3b"/><rect x="57.35" y="408.75" width="15.17" height="1.61" fill="#dc6e58"/><rect x="72.5" y="408.75" width="15.17" height="1.61" fill="#fae7dc"/><rect x="87.65" y="408.75" width="15.17" height="1.61" fill="#5ea4cf"/><rect x="102.8" y="408.75" width="15.17" height="1.61" fill="#88bfdb"/><rect x="117.95" y="408.75" width="15.17" height="1.61" fill="#ecf2f5"/><rect x="42.2" y="410.34" width="15.17" height="1.61" fill="#ce5046"/><rect x="57.35" y="410.34" width="15.17" height="1.61" fill="#d55e4c"/><rect x="72.5" y="410.34" width="15.17" height="1.61" fill="#fcd7c2"/><rect x="87.65" y="410.34" width="15.17" height="1.61" fill="#5ba2ce"/><rect x="102.8" y="410.34" width="15.17" height="1.61" fill="#edf2f5"/><rect x="117.95" y="410.34" width="15.17" height="1.61" fill="#e3eef3"/><rect x="42.2" y="411.93" width="15.17" height="1.61" fill="#c84540"/><rect x="57.35" y="411.93" width="15.17" height="1.61" fill="#e0775f"/><rect x="72.5" y="411.93" width="15.17" height="1.61" fill="#f9f0ea"/><rect x="87.65" y="411.93" width="15.17" height="1.61" fill="#3885c1"/><rect x="102.8" y="411.93" width="15.17" height="1.61" fill="#e8f0f4"/><rect x="117.95" y="411.93" width="15.17" height="1.61" fill="#c9e1ee"/><rect x="42.2" y="413.52" width="15.17" height="1.61" fill="#c53d3d"/><rect x="57.35" y="413.52" width="15.17" height="1.61" fill="#ca4942"/><rect x="72.5" y="413.52" width="15.17" height="1.61" fill="#f9f0eb"/><rect x="87.65" y="413.52" width="15.17" height="1.61" fill="#4c99c9"/><rect x="102.8" y="413.52" width="15.17" height="1.61" fill="#f4f5f6"/><rect x="117.95" y="413.52" width="15.17" height="1.61" fill="#d2e5f0"/><rect x="42.2" y="415.12" width="15.17" height="1.61" fill="#bf3237"/><rect x="57.35" y="415.12" width="15.17" height="1.61" fill="#d7634f"/><rect x="72.5" y="415.12" width="15.17" height="1.61" fill="#f8f1ed"/><rect x="87.65" y="415.12" width="15.17" height="1.61" fill="#4693c7"/><rect x="102.8" y="415.12" width="15.17" height="1.61" fill="#cae1ee"/><rect x="117.95" y="415.12" width="15.17" height="1.61" fill="#dae9f2"/><rect x="42.2" y="416.71" width="15.17" height="1.61" fill="#db6b56"/><rect x="57.35" y="416.71" width="15.17" height="1.61" fill="#ce4f45"/><rect x="72.5" y="416.71" width="15.17" height="1.61" fill="#eb9072"/><rect x="87.65" y="416.71" width="15.17" height="1.61" fill="#317ebe"/><rect x="102.8" y="416.71" width="15.17" height="1.61" fill="#e8f0f4"/><rect x="117.95" y="416.71" width="15.17" height="1.61" fill="#ebf1f5"/><rect x="42.2" y="418.3" width="15.17" height="1.61" fill="#d05447"/><rect x="57.35" y="418.3" width="15.17" height="1.61" fill="#e68469"/><rect x="72.5" y="418.3" width="15.17" height="1.61" fill="#e98c6f"/><rect x="87.65" y="418.3" width="15.17" height="1.61" fill="#246fb6"/><rect x="102.8" y="418.3" width="15.17" height="1.61" fill="#ddebf2"/><rect x="117.95" y="418.3" width="15.17" height="1.61" fill="#e3eef3"/><rect x="42.2" y="419.89" width="15.17" height="1.61" fill="#d25849"/><rect x="57.35" y="419.89" width="15.17" height="1.61" fill="#e17a61"/><rect x="72.5" y="419.89" width="15.17" height="1.61" fill="#e58267"/><rect x="87.65" y="419.89" width="15.17" height="1.61" fill="#2874ba"/><rect x="102.8" y="419.89" width="15.17" height="1.61" fill="#c9e1ee"/><rect x="117.95" y="419.89" width="15.17" height="1.61" fill="#e9f0f4"/><rect x="42.2" y="421.48" width="15.17" height="1.61" fill="#d96752"/><rect x="57.35" y="421.48" width="15.17" height="1.61" fill="#aa1329"/><rect x="72.5" y="421.48" width="15.17" height="1.61" fill="#f6ae8e"/><rect x="87.65" y="421.48" width="15.17" height="1.61" fill="#b0d4e6"/><rect x="102.8" y="421.48" width="15.17" height="1.61" fill="#418ec5"/><rect x="117.95" y="421.48" width="15.17" height="1.61" fill="#e6eff4"/><rect x="42.2" y="423.08" width="15.17" height="1.61" fill="#e27c62"/><rect x="57.35" y="423.08" width="15.17" height="1.61" fill="#870020"/><rect x="72.5" y="423.08" width="15.17" height="1.61" fill="#e7876b"/><rect x="87.65" y="423.08" width="15.17" height="1.61" fill="#bad9e9"/><rect x="102.8" y="423.08" width="15.17" height="1.61" fill="#418ec5"/><rect x="117.95" y="423.08" width="15.17" height="1.61" fill="#ecf2f5"/><rect x="42.2" y="424.67" width="15.17" height="1.61" fill="#df755d"/><rect x="57.35" y="424.67" width="15.17" height="1.61" fill="#8f0522"/><rect x="72.5" y="424.67" width="15.17" height="1.61" fill="#f7b496"/><rect x="87.65" y="424.67" width="15.17" height="1.61" fill="#a5cfe3"/><rect x="102.8" y="424.67" width="15.17" height="1.61" fill="#408dc4"/><rect x="117.95" y="424.67" width="15.17" height="1.61" fill="#e8f0f4"/><rect x="42.2" y="426.26" width="15.17" height="1.61" fill="#be3037"/><rect x="57.35" y="426.26" width="15.17" height="1.61" fill="#ec9375"/><rect x="72.5" y="426.26" width="15.17" height="1.61" fill="#e47f65"/><rect x="87.65" y="426.26" width="15.17" height="1.61" fill="#9ccae1"/><rect x="102.8" y="426.26" width="15.17" height="1.61" fill="#80bad9"/><rect x="117.95" y="426.26" width="15.17" height="1.61" fill="#d6e7f1"/><rect x="42.2" y="427.85" width="15.17" height="1.61" fill="#cd4f45"/><rect x="57.35" y="427.85" width="15.17" height="1.61" fill="#d96752"/><rect x="72.5" y="427.85" width="15.17" height="1.61" fill="#ce5045"/><rect x="87.65" y="427.85" width="15.17" height="1.61" fill="#afd4e6"/><rect x="102.8" y="427.85" width="15.17" height="1.61" fill="#5da3ce"/><rect x="117.95" y="427.85" width="15.17" height="1.61" fill="#e3edf3"/><rect x="42.2" y="429.45" width="15.17" height="1.61" fill="#d2594a"/><rect x="57.35" y="429.45" width="15.17" height="1.61" fill="#e58368"/><rect x="72.5" y="429.45" width="15.17" height="1.61" fill="#cf5146"/><rect x="87.65" y="429.45" width="15.17" height="1.61" fill="#72b1d5"/><rect x="102.8" y="429.45" width="15.17" height="1.61" fill="#4996c8"/><rect x="117.95" y="429.45" width="15.17" height="1.61" fill="#e8f0f4"/><rect x="42.2" y="431.04" width="15.17" height="1.61" fill="#f8f3f0"/><rect x="57.35" y="431.04" width="15.17" height="1.61" fill="#aa1329"/><rect x="72.5" y="431.04" width="15.17" height="1.61" fill="#a81328"/><rect x="87.65" y="431.04" width="15.17" height="1.61" fill="#a7cfe4"/><rect x="102.8" y="431.04" width="15.17" height="1.61" fill="#cee4ef"/><rect x="117.95" y="431.04" width="15.17" height="1.61" fill="#80bad9"/><rect x="42.2" y="432.63" width="15.17" height="1.61" fill="#fae8de"/><rect x="57.35" y="432.63" width="15.17" height="1.61" fill="#d7614e"/><rect x="72.5" y="432.63" width="15.17" height="1.61" fill="#a00e26"/><rect x="87.65" y="432.63" width="15.17" height="1.61" fill="#8ec2dd"/><rect x="102.8" y="432.63" width="15.17" height="1.61" fill="#dbeaf2"/><rect x="117.95" y="432.63" width="15.17" height="1.61" fill="#74b2d5"/><rect x="42.2" y="434.22" width="15.17" height="1.61" fill="#faebe3"/><rect x="57.35" y="434.22" width="15.17" height="1.61" fill="#b0172a"/><rect x="72.5" y="434.22" width="15.17" height="1.61" fill="#bd2f36"/><rect x="87.65" y="434.22" width="15.17" height="1.61" fill="#a0cce2"/><rect x="102.8" y="434.22" width="15.17" height="1.61" fill="#d4e7f1"/><rect x="117.95" y="434.22" width="15.17" height="1.61" fill="#b9d9e9"/><rect x="42.2" y="435.81" width="15.17" height="1.61" fill="#f4a684"/><rect x="57.35" y="435.81" width="15.17" height="1.61" fill="#ce5146"/><rect x="72.5" y="435.81" width="15.17" height="1.61" fill="#e37f65"/><rect x="87.65" y="435.81" width="15.17" height="1.61" fill="#74b2d5"/><rect x="102.8" y="435.81" width="15.17" height="1.61" fill="#96c7df"/><rect x="117.95" y="435.81" width="15.17" height="1.61" fill="#e4eef4"/><rect x="42.2" y="437.41" width="15.17" height="1.61" fill="#f7b596"/><rect x="57.35" y="437.41" width="15.17" height="1.61" fill="#c94641"/><rect x="72.5" y="437.41" width="15.17" height="1.61" fill="#d2594a"/><rect x="87.65" y="437.41" width="15.17" height="1.61" fill="#7fb9d8"/><rect x="102.8" y="437.41" width="15.17" height="1.61" fill="#a7d0e4"/><rect x="117.95" y="437.41" width="15.17" height="1.61" fill="#acd2e6"/><rect x="42.2" y="439" width="15.17" height="1.61" fill="#f7b698"/><rect x="57.35" y="439" width="15.17" height="1.61" fill="#d86651"/><rect x="72.5" y="439" width="15.17" height="1.61" fill="#d45d4b"/><rect x="87.65" y="439" width="15.17" height="1.61" fill="#68abd2"/><rect x="102.8" y="439" width="15.17" height="1.61" fill="#8bc1dc"/><rect x="117.95" y="439" width="15.17" height="1.61" fill="#b0d4e6"/><rect x="42.2" y="440.59" width="15.17" height="1.61" fill="#f6af8f"/><rect x="57.35" y="440.59" width="15.17" height="1.61" fill="#cd4e45"/><rect x="72.5" y="440.59" width="15.17" height="1.61" fill="#8d0322"/><rect x="87.65" y="440.59" width="15.17" height="1.61" fill="#6cadd3"/><rect x="102.8" y="440.59" width="15.17" height="1.61" fill="#d6e7f1"/><rect x="117.95" y="440.59" width="15.17" height="1.61" fill="#cde3ef"/><rect x="42.2" y="442.18" width="15.17" height="1.61" fill="#f2a07e"/><rect x="57.35" y="442.18" width="15.17" height="1.61" fill="#d86450"/><rect x="72.5" y="442.18" width="15.17" height="1.61" fill="#950824"/><rect x="87.65" y="442.18" width="15.17" height="1.61" fill="#74b2d5"/><rect x="102.8" y="442.18" width="15.17" height="1.61" fill="#d1e5f0"/><rect x="117.95" y="442.18" width="15.17" height="1.61" fill="#dceaf2"/><rect x="42.2" y="443.78" width="15.17" height="1.61" fill="#f5a987"/><rect x="57.35" y="443.78" width="15.17" height="1.61" fill="#d55f4c"/><rect x="72.5" y="443.78" width="15.17" height="1.61" fill="#a00e26"/><rect x="87.65" y="443.78" width="15.17" height="1.61" fill="#4d99c9"/><rect x="102.8" y="443.78" width="15.17" height="1.61" fill="#b9d9e9"/><rect x="117.95" y="443.78" width="15.17" height="1.61" fill="#e0ecf3"/><rect x="42.2" y="445.37" width="15.17" height="1.61" fill="#e88a6e"/><rect x="57.35" y="445.37" width="15.17" height="1.61" fill="#db6c56"/><rect x="72.5" y="445.37" width="15.17" height="1.61" fill="#8b0221"/><rect x="87.65" y="445.37" width="15.17" height="1.61" fill="#3f8dc4"/><rect x="102.8" y="445.37" width="15.17" height="1.61" fill="#eff3f5"/><rect x="117.95" y="445.37" width="15.17" height="1.61" fill="#c6e0ed"/><rect x="42.2" y="446.96" width="15.17" height="1.61" fill="#f8bfa3"/><rect x="57.35" y="446.96" width="15.17" height="1.61" fill="#e07860"/><rect x="72.5" y="446.96" width="15.17" height="1.61" fill="#a31027"/><rect x="87.65" y="446.96" width="15.17" height="1.61" fill="#6bacd2"/><rect x="102.8" y="446.96" width="15.17" height="1.61" fill="#e4eef3"/><rect x="117.95" y="446.96" width="15.17" height="1.61" fill="#c4deec"/><rect x="42.2" y="448.55" width="15.17" height="1.61" fill="#e37f64"/><rect x="57.35" y="448.55" width="15.17" height="1.61" fill="#de725b"/><rect x="72.5" y="448.55" width="15.17" height="1.61" fill="#aa1429"/><rect x="87.65" y="448.55" width="15.17" height="1.61" fill="#4d99ca"/><rect x="102.8" y="448.55" width="15.17" height="1.61" fill="#e4eef3"/><rect x="117.95" y="448.55" width="15.17" height="1.61" fill="#e7eff4"/><rect x="42.2" y="450.14" width="15.17" height="1.61" fill="#f6af8f"/><rect x="57.35" y="450.14" width="15.17" height="1.61" fill="#e68469"/><rect x="72.5" y="450.14" width="15.17" height="1.61" fill="#be3036"/><rect x="87.65" y="450.14" width="15.17" height="1.61" fill="#418ec5"/><rect x="102.8" y="450.14" width="15.17" height="1.61" fill="#f9ece3"/><rect x="117.95" y="450.14" width="15.17" height="1.61" fill="#cee4ef"/><rect x="42.2" y="451.74" width="15.17" height="1.61" fill="#f09d7c"/><rect x="57.35" y="451.74" width="15.17" height="1.61" fill="#d15749"/><rect x="72.5" y="451.74" width="15.17" height="1.61" fill="#bb2b34"/><rect x="87.65" y="451.74" width="15.17" height="1.61" fill="#4895c8"/><rect x="102.8" y="451.74" width="15.17" height="1.61" fill="#fbe5d9"/><rect x="117.95" y="451.74" width="15.17" height="1.61" fill="#acd2e6"/><rect x="42.2" y="453.33" width="15.17" height="1.61" fill="#d45c4b"/><rect x="57.35" y="453.33" width="15.17" height="1.61" fill="#bf3238"/><rect x="72.5" y="453.33" width="15.17" height="1.61" fill="#c43b3c"/><rect x="87.65" y="453.33" width="15.17" height="1.61" fill="#3380bf"/><rect x="102.8" y="453.33" width="15.17" height="1.61" fill="#f7f7f7"/><rect x="117.95" y="453.33" width="15.17" height="1.61" fill="#89bfdb"/><rect x="42.2" y="454.92" width="15.17" height="1.61" fill="#e58368"/><rect x="57.35" y="454.92" width="15.17" height="1.61" fill="#d7614e"/><rect x="72.5" y="454.92" width="15.17" height="1.61" fill="#ad152a"/><rect x="87.65" y="454.92" width="15.17" height="1.61" fill="#569fcc"/><rect x="102.8" y="454.92" width="15.17" height="1.61" fill="#f1f4f6"/><rect x="117.95" y="454.92" width="15.17" height="1.61" fill="#8cc1dc"/><rect x="42.2" y="456.51" width="15.17" height="1.61" fill="#e0765e"/><rect x="57.35" y="456.51" width="15.17" height="1.61" fill="#f8bfa4"/><rect x="72.5" y="456.51" width="15.17" height="1.61" fill="#b92631"/><rect x="87.65" y="456.51" width="15.17" height="1.61" fill="#3582c0"/><rect x="102.8" y="456.51" width="15.17" height="1.61" fill="#f4f5f6"/><rect x="117.95" y="456.51" width="15.17" height="1.61" fill="#afd4e6"/><rect x="42.2" y="458.1" width="15.17" height="1.61" fill="#dd7059"/><rect x="57.35" y="458.1" width="15.17" height="1.61" fill="#f2a17f"/><rect x="72.5" y="458.1" width="15.17" height="1.61" fill="#d25849"/><rect x="87.65" y="458.1" width="15.17" height="1.61" fill="#3683c0"/><rect x="102.8" y="458.1" width="15.17" height="1.61" fill="#d6e7f1"/><rect x="117.95" y="458.1" width="15.17" height="1.61" fill="#a2cde2"/><rect x="42.2" y="459.7" width="15.17" height="1.61" fill="#d6604d"/><rect x="57.35" y="459.7" width="15.17" height="1.61" fill="#e8896c"/><rect x="72.5" y="459.7" width="15.17" height="1.61" fill="#c43d3c"/><rect x="87.65" y="459.7" width="15.17" height="1.61" fill="#2d79bc"/><rect x="102.8" y="459.7" width="15.17" height="1.61" fill="#cfe4f0"/><rect x="117.95" y="459.7" width="15.17" height="1.61" fill="#78b4d6"/><rect x="42.2" y="461.29" width="15.17" height="1.61" fill="#de725b"/><rect x="57.35" y="461.29" width="15.17" height="1.61" fill="#f4a784"/><rect x="72.5" y="461.29" width="15.17" height="1.61" fill="#d15648"/><rect x="87.65" y="461.29" width="15.17" height="1.61" fill="#4492c6"/><rect x="102.8" y="461.29" width="15.17" height="1.61" fill="#d8e8f1"/><rect x="117.95" y="461.29" width="15.17" height="1.61" fill="#d6e8f1"/><rect x="42.2" y="462.88" width="15.17" height="1.61" fill="#df745c"/><rect x="57.35" y="462.88" width="15.17" height="1.61" fill="#f6b395"/><rect x="72.5" y="462.88" width="15.17" height="1.61" fill="#e0775f"/><rect x="87.65" y="462.88" width="15.17" height="1.61" fill="#4d99c9"/><rect x="102.8" y="462.88" width="15.17" height="1.61" fill="#e2edf3"/><rect x="117.95" y="462.88" width="15.17" height="1.61" fill="#afd4e6"/><rect x="42.2" y="464.47" width="15.17" height="1.61" fill="#e88a6d"/><rect x="57.35" y="464.47" width="15.17" height="1.61" fill="#fbceb7"/><rect x="72.5" y="464.47" width="15.17" height="1.61" fill="#ce5146"/><rect x="87.65" y="464.47" width="15.17" height="1.61" fill="#3d8ac3"/><rect x="102.8" y="464.47" width="15.17" height="1.61" fill="#e3eef3"/><rect x="117.95" y="464.47" width="15.17" height="1.61" fill="#dfecf3"/><rect x="42.2" y="466.07" width="15.17" height="1.61" fill="#d15749"/><rect x="57.35" y="466.07" width="15.17" height="1.61" fill="#e37d64"/><rect x="72.5" y="466.07" width="15.17" height="1.61" fill="#dc6d57"/><rect x="87.65" y="466.07" width="15.17" height="1.61" fill="#2e7abd"/><rect x="102.8" y="466.07" width="15.17" height="1.61" fill="#f5f6f7"/><rect x="117.95" y="466.07" width="15.17" height="1.61" fill="#d6e8f1"/><rect x="42.2" y="467.66" width="15.17" height="1.61" fill="#dc6f58"/><rect x="57.35" y="467.66" width="15.17" height="1.61" fill="#d15749"/><rect x="72.5" y="467.66" width="15.17" height="1.61" fill="#cf5246"/><rect x="87.65" y="467.66" width="15.17" height="1.61" fill="#216bb2"/><rect x="102.8" y="467.66" width="15.17" height="1.61" fill="#f7f7f7"/><rect x="117.95" y="467.66" width="15.17" height="1.61" fill="#d3e6f0"/><rect x="42.2" y="469.25" width="15.17" height="1.61" fill="#c8433f"/><rect x="57.35" y="469.25" width="15.17" height="1.61" fill="#f7b597"/><rect x="72.5" y="469.25" width="15.17" height="1.61" fill="#d2594a"/><rect x="87.65" y="469.25" width="15.17" height="1.61" fill="#3885c1"/><rect x="102.8" y="469.25" width="15.17" height="1.61" fill="#f8f4f2"/><rect x="117.95" y="469.25" width="15.17" height="1.61" fill="#b5d7e8"/><rect x="42.2" y="470.84" width="15.17" height="1.61" fill="#9a0a25"/><rect x="57.35" y="470.84" width="15.17" height="1.61" fill="#eb9173"/><rect x="72.5" y="470.84" width="15.17" height="1.61" fill="#db6c57"/><rect x="87.65" y="470.84" width="15.17" height="1.61" fill="#3783c0"/><rect x="102.8" y="470.84" width="15.17" height="1.61" fill="#d4e7f1"/><rect x="117.95" y="470.84" width="15.17" height="1.61" fill="#b3d6e7"/><rect x="42.2" y="472.43" width="15.17" height="1.61" fill="#bc2d35"/><rect x="57.35" y="472.43" width="15.17" height="1.61" fill="#f6b191"/><rect x="72.5" y="472.43" width="15.17" height="1.61" fill="#e17961"/><rect x="87.65" y="472.43" width="15.17" height="1.61" fill="#2672b8"/><rect x="102.8" y="472.43" width="15.17" height="1.61" fill="#f7f6f5"/><rect x="117.95" y="472.43" width="15.17" height="1.61" fill="#cce2ee"/><rect x="42.2" y="474.03" width="15.17" height="1.61" fill="#a00e26"/><rect x="57.35" y="474.03" width="15.17" height="1.61" fill="#f8bb9e"/><rect x="72.5" y="474.03" width="15.17" height="1.61" fill="#e0775f"/><rect x="87.65" y="474.03" width="15.17" height="1.61" fill="#2e7bbd"/><rect x="102.8" y="474.03" width="15.17" height="1.61" fill="#e6eff4"/><rect x="117.95" y="474.03" width="15.17" height="1.61" fill="#cae2ee"/><rect x="42.2" y="475.62" width="15.17" height="1.61" fill="#de735b"/><rect x="57.35" y="475.62" width="15.17" height="1.61" fill="#f09c7b"/><rect x="72.5" y="475.62" width="15.17" height="1.61" fill="#c94540"/><rect x="87.65" y="475.62" width="15.17" height="1.61" fill="#92c5de"/><rect x="102.8" y="475.62" width="15.17" height="1.61" fill="#f8f1ed"/><rect x="117.95" y="475.62" width="15.17" height="1.61" fill="#78b5d6"/><rect x="42.2" y="477.21" width="15.17" height="1.61" fill="#de725b"/><rect x="57.35" y="477.21" width="15.17" height="1.61" fill="#e48065"/><rect x="72.5" y="477.21" width="15.17" height="1.61" fill="#cf5246"/><rect x="87.65" y="477.21" width="15.17" height="1.61" fill="#86bdda"/><rect x="102.8" y="477.21" width="15.17" height="1.61" fill="#e1edf3"/><rect x="117.95" y="477.21" width="15.17" height="1.61" fill="#6daed3"/><rect x="42.2" y="478.8" width="15.17" height="1.61" fill="#c7433f"/><rect x="57.35" y="478.8" width="15.17" height="1.61" fill="#ee9777"/><rect x="72.5" y="478.8" width="15.17" height="1.61" fill="#df745c"/><rect x="87.65" y="478.8" width="15.17" height="1.61" fill="#67aad1"/><rect x="102.8" y="478.8" width="15.17" height="1.61" fill="#e1edf3"/><rect x="117.95" y="478.8" width="15.17" height="1.61" fill="#65a9d1"/><rect x="42.2" y="480.4" width="15.17" height="1.61" fill="#e98b6e"/><rect x="57.35" y="480.4" width="15.17" height="1.61" fill="#a71228"/><rect x="72.5" y="480.4" width="15.17" height="1.61" fill="#f8bca0"/><rect x="87.65" y="480.4" width="15.17" height="1.61" fill="#5ba2ce"/><rect x="102.8" y="480.4" width="15.17" height="1.61" fill="#ebf1f5"/><rect x="117.95" y="480.4" width="15.17" height="1.61" fill="#aad1e5"/><rect x="42.2" y="481.99" width="15.17" height="1.61" fill="#ec9475"/><rect x="57.35" y="481.99" width="15.17" height="1.61" fill="#900522"/><rect x="72.5" y="481.99" width="15.17" height="1.61" fill="#facab2"/><rect x="87.65" y="481.99" width="15.17" height="1.61" fill="#7fb9d8"/><rect x="102.8" y="481.99" width="15.17" height="1.61" fill="#ebf1f5"/><rect x="117.95" y="481.99" width="15.17" height="1.61" fill="#abd2e5"/><rect x="42.2" y="483.58" width="15.17" height="1.61" fill="#e37f65"/><rect x="57.35" y="483.58" width="15.17" height="1.61" fill="#b72230"/><rect x="72.5" y="483.58" width="15.17" height="1.61" fill="#f6b394"/><rect x="87.65" y="483.58" width="15.17" height="1.61" fill="#539dcb"/><rect x="102.8" y="483.58" width="15.17" height="1.61" fill="#d9e9f1"/><rect x="117.95" y="483.58" width="15.17" height="1.61" fill="#b7d8e9"/><rect x="42.2" y="485.17" width="15.17" height="1.61" fill="#ee9777"/><rect x="57.35" y="485.17" width="15.17" height="1.61" fill="#9f0d26"/><rect x="72.5" y="485.17" width="15.17" height="1.61" fill="#f6b090"/><rect x="87.65" y="485.17" width="15.17" height="1.61" fill="#86bedb"/><rect x="102.8" y="485.17" width="15.17" height="1.61" fill="#e9f0f4"/><rect x="117.95" y="485.17" width="15.17" height="1.61" fill="#c7e0ed"/><rect x="42.2" y="486.76" width="15.17" height="1.61" fill="#de715a"/><rect x="57.35" y="486.76" width="15.17" height="1.61" fill="#d96853"/><rect x="72.5" y="486.76" width="15.17" height="1.61" fill="#e7876b"/><rect x="87.65" y="486.76" width="15.17" height="1.61" fill="#65a8d1"/><rect x="102.8" y="486.76" width="15.17" height="1.61" fill="#cbe2ee"/><rect x="117.95" y="486.76" width="15.17" height="1.61" fill="#c6dfed"/><rect x="42.2" y="488.36" width="15.17" height="1.61" fill="#e17960"/><rect x="57.35" y="488.36" width="15.17" height="1.61" fill="#e0765e"/><rect x="72.5" y="488.36" width="15.17" height="1.61" fill="#e27b62"/><rect x="87.65" y="488.36" width="15.17" height="1.61" fill="#3e8bc3"/><rect x="102.8" y="488.36" width="15.17" height="1.61" fill="#bcdaea"/><rect x="117.95" y="488.36" width="15.17" height="1.61" fill="#d9e9f1"/><rect x="42.2" y="489.95" width="15.17" height="1.61" fill="#cf5347"/><rect x="57.35" y="489.95" width="15.17" height="1.61" fill="#dd7059"/><rect x="72.5" y="489.95" width="15.17" height="1.61" fill="#d86551"/><rect x="87.65" y="489.95" width="15.17" height="1.61" fill="#4c98c9"/><rect x="102.8" y="489.95" width="15.17" height="1.61" fill="#c7e0ed"/><rect x="117.95" y="489.95" width="15.17" height="1.61" fill="#dbeaf2"/><rect x="42.2" y="491.54" width="15.17" height="1.61" fill="#f8bea2"/><rect x="57.35" y="491.54" width="15.17" height="1.61" fill="#c2383a"/><rect x="72.5" y="491.54" width="15.17" height="1.61" fill="#df755d"/><rect x="87.65" y="491.54" width="15.17" height="1.61" fill="#236db4"/><rect x="102.8" y="491.54" width="15.17" height="1.61" fill="#bddbea"/><rect x="117.95" y="491.54" width="15.17" height="1.61" fill="#f9ebe3"/><rect x="42.2" y="493.13" width="15.17" height="1.61" fill="#f7b698"/><rect x="57.35" y="493.13" width="15.17" height="1.61" fill="#cd4f45"/><rect x="72.5" y="493.13" width="15.17" height="1.61" fill="#e37d63"/><rect x="87.65" y="493.13" width="15.17" height="1.61" fill="#2772b8"/><rect x="102.8" y="493.13" width="15.17" height="1.61" fill="#dbeaf2"/><rect x="117.95" y="493.13" width="15.17" height="1.61" fill="#fbe4d7"/><rect x="42.2" y="494.73" width="15.17" height="1.61" fill="#f8bda1"/><rect x="57.35" y="494.73" width="15.17" height="1.61" fill="#c84440"/><rect x="72.5" y="494.73" width="15.17" height="1.61" fill="#f2a07e"/><rect x="87.65" y="494.73" width="15.17" height="1.61" fill="#216bb2"/><rect x="102.8" y="494.73" width="15.17" height="1.61" fill="#c2deec"/><rect x="117.95" y="494.73" width="15.17" height="1.61" fill="#f5f6f7"/><rect x="42.2" y="496.32" width="15.17" height="1.61" fill="#fcd7c2"/><rect x="57.35" y="496.32" width="15.17" height="1.61" fill="#b51e2e"/><rect x="72.5" y="496.32" width="15.17" height="1.61" fill="#c53e3d"/><rect x="87.65" y="496.32" width="15.17" height="1.61" fill="#2f7cbd"/><rect x="102.8" y="496.32" width="15.17" height="1.61" fill="#f8f0eb"/><rect x="117.95" y="496.32" width="15.17" height="1.61" fill="#d4e7f1"/><rect x="42.2" y="497.91" width="15.17" height="1.61" fill="#fddbc8"/><rect x="57.35" y="497.91" width="15.17" height="1.61" fill="#870020"/><rect x="72.5" y="497.91" width="15.17" height="1.61" fill="#bf3237"/><rect x="87.65" y="497.91" width="15.17" height="1.61" fill="#226db4"/><rect x="102.8" y="497.91" width="15.17" height="1.61" fill="#e0ecf3"/><rect x="117.95" y="497.91" width="15.17" height="1.61" fill="#c9e1ee"/><rect x="42.2" y="499.5" width="15.17" height="1.61" fill="#fcdfce"/><rect x="57.35" y="499.5" width="15.17" height="1.61" fill="#8a0221"/><rect x="72.5" y="499.5" width="15.17" height="1.61" fill="#ba2732"/><rect x="87.65" y="499.5" width="15.17" height="1.61" fill="#2e7abd"/><rect x="102.8" y="499.5" width="15.17" height="1.61" fill="#eff3f6"/><rect x="117.95" y="499.5" width="15.17" height="1.61" fill="#e8f0f4"/><rect x="42.2" y="501.09" width="15.17" height="1.61" fill="#fce1d0"/><rect x="57.35" y="501.09" width="15.17" height="1.61" fill="#d6614d"/><rect x="72.5" y="501.09" width="15.17" height="1.61" fill="#9e0d26"/><rect x="87.65" y="501.09" width="15.17" height="1.61" fill="#2e7abd"/><rect x="102.8" y="501.09" width="15.17" height="1.61" fill="#d8e8f1"/><rect x="117.95" y="501.09" width="15.17" height="1.61" fill="#e6eff4"/><rect x="42.2" y="502.69" width="15.17" height="1.61" fill="#fcd3bc"/><rect x="57.35" y="502.69" width="15.17" height="1.61" fill="#d6604d"/><rect x="72.5" y="502.69" width="15.17" height="1.61" fill="#c53d3d"/><rect x="87.65" y="502.69" width="15.17" height="1.61" fill="#2c78bc"/><rect x="102.8" y="502.69" width="15.17" height="1.61" fill="#f8f2ef"/><rect x="117.95" y="502.69" width="15.17" height="1.61" fill="#f4f6f6"/><rect x="42.2" y="504.28" width="15.17" height="1.61" fill="#fdd9c4"/><rect x="57.35" y="504.28" width="15.17" height="1.61" fill="#e17960"/><rect x="72.5" y="504.28" width="15.17" height="1.61" fill="#b1172b"/><rect x="87.65" y="504.28" width="15.17" height="1.61" fill="#2772b9"/><rect x="102.8" y="504.28" width="15.17" height="1.61" fill="#deebf2"/><rect x="117.95" y="504.28" width="15.17" height="1.61" fill="#e3eef3"/><rect x="42.2" y="505.87" width="15.17" height="1.61" fill="#f6b292"/><rect x="57.35" y="505.87" width="15.17" height="1.61" fill="#d6604d"/><rect x="72.5" y="505.87" width="15.17" height="1.61" fill="#d25749"/><rect x="87.65" y="505.87" width="15.17" height="1.61" fill="#2570b6"/><rect x="102.8" y="505.87" width="15.17" height="1.61" fill="#d5e7f1"/><rect x="117.95" y="505.87" width="15.17" height="1.61" fill="#b1d5e7"/><rect x="42.2" y="507.46" width="15.17" height="1.61" fill="#ee9677"/><rect x="57.35" y="507.46" width="15.17" height="1.61" fill="#d25949"/><rect x="72.5" y="507.46" width="15.17" height="1.61" fill="#db6b56"/><rect x="87.65" y="507.46" width="15.17" height="1.61" fill="#317dbe"/><rect x="102.8" y="507.46" width="15.17" height="1.61" fill="#e1edf3"/><rect x="117.95" y="507.46" width="15.17" height="1.61" fill="#d9e9f2"/><rect x="42.2" y="509.05" width="15.17" height="1.61" fill="#f7b495"/><rect x="57.35" y="509.05" width="15.17" height="1.61" fill="#d96652"/><rect x="72.5" y="509.05" width="15.17" height="1.61" fill="#e58267"/><rect x="87.65" y="509.05" width="15.17" height="1.61" fill="#216bb2"/><rect x="102.8" y="509.05" width="15.17" height="1.61" fill="#e7eff4"/><rect x="117.95" y="509.05" width="15.17" height="1.61" fill="#dae9f2"/><rect x="42.2" y="510.65" width="15.17" height="1.61" fill="#cf5146"/><rect x="57.35" y="510.65" width="15.17" height="1.61" fill="#d55e4c"/><rect x="72.5" y="510.65" width="15.17" height="1.61" fill="#eb9172"/><rect x="87.65" y="510.65" width="15.17" height="1.61" fill="#2a76bb"/><rect x="102.8" y="510.65" width="15.17" height="1.61" fill="#d4e6f1"/><rect x="117.95" y="510.65" width="15.17" height="1.61" fill="#e2edf3"/><rect x="42.2" y="512.24" width="15.17" height="1.61" fill="#f5aa89"/><rect x="57.35" y="512.24" width="15.17" height="1.61" fill="#d96753"/><rect x="72.5" y="512.24" width="15.17" height="1.61" fill="#ec9273"/><rect x="87.65" y="512.24" width="15.17" height="1.61" fill="#2f7cbd"/><rect x="102.8" y="512.24" width="15.17" height="1.61" fill="#e9f1f4"/><rect x="117.95" y="512.24" width="15.17" height="1.61" fill="#c4deec"/><rect x="42.2" y="513.83" width="15.17" height="1.61" fill="#cd4f45"/><rect x="57.35" y="513.83" width="15.17" height="1.61" fill="#d15648"/><rect x="72.5" y="513.83" width="15.17" height="1.61" fill="#f5aa88"/><rect x="87.65" y="513.83" width="15.17" height="1.61" fill="#3b88c2"/><rect x="102.8" y="513.83" width="15.17" height="1.61" fill="#c8e1ee"/><rect x="117.95" y="513.83" width="15.17" height="1.61" fill="#b5d7e8"/><rect x="42.2" y="515.42" width="15.17" height="1.61" fill="#dc6d57"/><rect x="57.35" y="515.42" width="15.17" height="1.61" fill="#d55d4c"/><rect x="72.5" y="515.42" width="15.17" height="1.61" fill="#d25849"/><rect x="87.65" y="515.42" width="15.17" height="1.61" fill="#307cbd"/><rect x="102.8" y="515.42" width="15.17" height="1.61" fill="#cce2ee"/><rect x="117.95" y="515.42" width="15.17" height="1.61" fill="#e5eef4"/><rect x="42.2" y="517.02" width="15.17" height="1.61" fill="#d65f4d"/><rect x="57.35" y="517.02" width="15.17" height="1.61" fill="#ca4842"/><rect x="72.5" y="517.02" width="15.17" height="1.61" fill="#c13539"/><rect x="87.65" y="517.02" width="15.17" height="1.61" fill="#307cbd"/><rect x="102.8" y="517.02" width="15.17" height="1.61" fill="#deebf2"/><rect x="117.95" y="517.02" width="15.17" height="1.61" fill="#cbe2ee"/><rect x="42.2" y="518.61" width="15.17" height="1.61" fill="#f4a582"/><rect x="57.35" y="518.61" width="15.17" height="1.61" fill="#d05347"/><rect x="72.5" y="518.61" width="15.17" height="1.61" fill="#e0765e"/><rect x="87.65" y="518.61" width="15.17" height="1.61" fill="#3481bf"/><rect x="102.8" y="518.61" width="15.17" height="1.61" fill="#dceaf2"/><rect x="117.95" y="518.61" width="15.17" height="1.61" fill="#c5dfed"/><path d="M2.2 348.2H18.96M18.96 327.96H21.89M21.89 321.98H31.56M31.56 320.39H31.88M31.88 318.61H32.18M32.18 317.08H38.09M38.09 316.74H42.1M38.09 317.42H42.1M38.09 316.74V317.42M32.18 320.14H33.38M33.38 319.12H36.19M36.19 318.44H38.03M38.03 318.1H42.1M38.03 318.78H42.1M38.03 318.1V318.78M36.19 319.8H38.26M38.26 319.46H42.1M38.26 320.14H42.1M38.26 319.46V320.14M36.19 318.44V319.8M33.38 321.16H38.39M38.39 320.82H42.1M38.39 321.5H42.1M38.39 320.82V321.5M33.38 319.12V321.16M32.18 317.08V320.14M31.88 322.17H42.1M31.88 318.61V322.17M31.56 323.58H35.23M35.23 322.85H42.1M35.23 324.3H36.57M36.57 323.53H42.1M36.57 325.06H36.73M36.73 324.55H38.2M38.2 324.21H42.1M38.2 324.89H42.1M38.2 324.21V324.89M36.73 325.57H42.1M36.73 324.55V325.57M36.57 323.53V325.06M35.23 322.85V324.3M31.56 320.39V323.58M21.89 333.94H23.37M23.37 329.6H28.8M28.8 327.86H33.23M33.23 327.1H36.66M36.66 326.59H38.45M38.45 326.25H42.1M38.45 326.93H42.1M38.45 326.25V326.93M36.66 327.61H42.1M36.66 326.59V327.61M33.23 328.63H38.86M38.86 328.29H42.1M38.86 328.97H42.1M38.86 328.29V328.97M33.23 327.1V328.63M28.8 331.35H32.36M32.36 330.16H35.87M35.87 329.65H42.1M35.87 330.67H38.92M38.92 330.33H42.1M38.92 331.01H42.1M38.92 330.33V331.01M35.87 329.65V330.67M32.36 332.53H37.72M37.72 332.02H38.81M38.81 331.69H42.1M38.81 332.36H42.1M38.81 331.69V332.36M37.72 333.04H42.1M37.72 332.02V333.04M32.36 330.16V332.53M28.8 327.86V331.35M23.37 338.28H29.54M29.54 336.33H30.8M30.8 334.87H33.76M33.76 333.72H42.1M33.76 336.02H35.38M35.38 335.25H37.47M37.47 334.74H38.49M38.49 334.4H42.1M38.49 335.08H42.1M38.49 334.4V335.08M37.47 335.76H42.1M37.47 334.74V335.76M35.38 336.78H38.47M38.47 336.44H42.1M38.47 337.12H42.1M38.47 336.44V337.12M35.38 335.25V336.78M33.76 333.72V336.02M30.8 337.8H42.1M30.8 334.87V337.8M29.54 340.22H29.92M29.92 338.48H42.1M29.92 341.96H30.29M30.29 340.77H33.42M33.42 340.01H37.67M37.67 339.5H38.98M38.98 339.16H42.1M38.98 339.84H42.1M38.98 339.16V339.84M37.67 340.52H42.1M37.67 339.5V340.52M33.42 341.54H39.09M39.09 341.2H42.1M39.09 341.88H42.1M39.09 341.2V341.88M33.42 340.01V341.54M30.29 343.15H35.68M35.68 342.55H42.1M35.68 343.74H36.82M36.82 343.23H42.1M36.82 344.25H38.43M38.43 343.91H42.1M38.43 344.59H42.1M38.43 343.91V344.59M36.82 343.23V344.25M35.68 342.55V343.74M30.29 340.77V343.15M29.92 338.48V341.96M29.54 336.33V340.22M23.37 329.6V338.28M21.89 321.98V333.94M18.96 368.44H21.24M21.24 359.02H21.86M21.86 353.61H26.83M26.83 349.21H27.69M27.69 345.91H35.26M35.26 345.27H42.1M35.26 346.55H36.25M36.25 345.95H42.1M36.25 347.14H36.92M36.92 346.63H42.1M36.92 347.65H38.76M38.76 347.31H42.1M38.76 347.99H42.1M38.76 347.31V347.99M36.92 346.63V347.65M36.25 345.95V347.14M35.26 345.27V346.55M27.69 352.51H32.33M32.33 351.26H33.31M33.31 350.11H34.37M34.37 349.18H37.2M37.2 348.67H42.1M37.2 349.69H38.58M38.58 349.35H42.1M38.58 350.03H42.1M38.58 349.35V350.03M37.2 348.67V349.69M34.37 351.05H39.36M39.36 350.71H42.1M39.36 351.39H42.1M39.36 350.71V351.39M34.37 349.18V351.05M33.31 352.4H38.06M38.06 352.06H42.1M38.06 352.74H42.1M38.06 352.06V352.74M33.31 350.11V352.4M32.33 353.76H39.05M39.05 353.42H42.1M39.05 354.1H42.1M39.05 353.42V354.1M32.33 351.26V353.76M27.69 345.91V352.51M26.83 358.01H32.58M32.58 356.4H35M35 355.63H37.05M37.05 355.12H39.27M39.27 354.78H42.1M39.27 355.46H42.1M39.27 354.78V355.46M37.05 356.14H42.1M37.05 355.12V356.14M35 357.16H39.17M39.17 356.82H42.1M39.17 357.5H42.1M39.17 356.82V357.5M35 355.63V357.16M32.58 359.62H35.33M35.33 359.03H36.47M36.47 358.52H38.68M38.68 358.18H42.1M38.68 358.86H42.1M38.68 358.18V358.86M36.47 359.54H42.1M36.47 358.52V359.54M35.33 360.22H42.1M35.33 359.03V360.22M32.58 356.4V359.62M26.83 349.21V358.01M21.86 364.43H29.78M29.78 362.34H34.52M34.52 361.75H37.6M37.6 361.24H39.11M39.11 360.9H42.1M39.11 361.58H42.1M39.11 360.9V361.58M37.6 362.25H42.1M37.6 361.24V362.25M34.52 362.93H42.1M34.52 361.75V362.93M29.78 366.51H30.15M30.15 364.46H37.27M37.27 363.95H38.12M38.12 363.61H42.1M38.12 364.29H42.1M38.12 363.61V364.29M37.27 364.97H42.1M37.27 363.95V364.97M30.15 368.56H30.51M30.51 366.63H32.31M32.31 365.65H42.1M32.31 367.6H35.11M35.11 366.67H39.19M39.19 366.33H42.1M39.19 367.01H42.1M39.19 366.33V367.01M35.11 368.54H37.59M37.59 368.03H38.71M38.71 367.69H42.1M38.71 368.37H42.1M38.71 367.69V368.37M37.59 369.05H42.1M37.59 368.03V369.05M35.11 366.67V368.54M32.31 365.65V367.6M30.51 370.49H36.42M36.42 369.73H42.1M36.42 371.26H36.99M36.99 370.75H38.47M38.47 370.41H42.1M38.47 371.09H42.1M38.47 370.41V371.09M36.99 371.77H42.1M36.99 370.75V371.77M36.42 369.73V371.26M30.51 366.63V370.49M30.15 364.46V368.56M29.78 362.34V366.51M21.86 353.61V364.43M21.24 377.85H26.1M26.1 373.78H32.27M32.27 372.78H38M38 372.44H42.1M38 373.12H42.1M38 372.44V373.12M32.27 374.78H34.68M34.68 373.8H42.1M34.68 375.76H34.9M34.9 374.99H37.22M37.22 374.48H42.1M37.22 375.5H39.36M39.36 375.16H42.1M39.36 375.84H42.1M39.36 375.16V375.84M37.22 374.48V375.5M34.9 376.52H42.1M34.9 374.99V376.52M34.68 373.8V375.76M32.27 372.78V374.78M26.1 381.92H30.24M30.24 378.47H33.95M33.95 377.71H36.57M36.57 377.2H42.1M36.57 378.22H38.06M38.06 377.88H42.1M38.06 378.56H42.1M38.06 377.88V378.56M36.57 377.2V378.22M33.95 379.24H42.1M33.95 377.71V379.24M30.24 385.37H30.6M30.6 382.51H30.98M30.98 381.19H34.73M34.73 380.26H38.01M38.01 379.92H42.1M38.01 380.6H42.1M38.01 379.92V380.6M34.73 382.13H36.5M36.5 381.62H38.97M38.97 381.28H42.1M38.97 381.96H42.1M38.97 381.28V381.96M36.5 382.63H42.1M36.5 381.62V382.63M34.73 380.26V382.13M30.98 383.82H37.27M37.27 383.31H42.1M37.27 384.33H38.49M38.49 383.99H42.1M38.49 384.67H42.1M38.49 383.99V384.67M37.27 383.31V384.33M30.98 381.19V383.82M30.6 388.24H30.94M30.94 386.37H33.19M33.19 385.35H42.1M33.19 387.39H34.47M34.47 386.37H38.7M38.7 386.03H42.1M38.7 386.71H42.1M38.7 386.03V386.71M34.47 388.41H34.7M34.7 387.73H38.79M38.79 387.39H42.1M38.79 388.07H42.1M38.79 387.39V388.07M34.7 389.09H39.34M39.34 388.75H42.1M39.34 389.43H42.1M39.34 388.75V389.43M34.7 387.73V389.09M34.47 386.37V388.41M33.19 385.35V387.39M30.94 390.11H42.1M30.94 386.37V390.11M30.6 382.51V388.24M30.24 378.47V385.37M26.1 373.78V381.92M21.24 359.02V377.85M18.96 327.96V368.44M2.2 420.22H18.96M18.96 403.54H27.81M27.81 398.03H29.25M29.25 391.81H36.81M36.81 391.13H39.35M39.35 390.79H42.1M39.35 391.47H42.1M39.35 390.79V391.47M36.81 392.49H39.3M39.3 392.15H42.1M39.3 392.82H42.1M39.3 392.15V392.82M36.81 391.13V392.49M29.25 404.26H29.64M29.64 401.25H30.01M30.01 397.6H30.38M30.38 394.81H33.01M33.01 393.84H38.67M38.67 393.5H42.1M38.67 394.18H42.1M38.67 393.5V394.18M33.01 395.78H35.15M35.15 394.86H42.1M35.15 396.69H35.36M35.36 395.54H42.1M35.36 397.84H35.56M35.56 397.07H36.44M36.44 396.56H39.49M39.49 396.22H42.1M39.49 396.9H42.1M39.49 396.22V396.9M36.44 397.58H42.1M36.44 396.56V397.58M35.56 398.6H39.35M39.35 398.26H42.1M39.35 398.94H42.1M39.35 398.26V398.94M35.56 397.07V398.6M35.36 395.54V397.84M35.15 394.86V396.69M33.01 393.84V395.78M30.38 400.38H34.92M34.92 399.62H42.1M34.92 401.15H36.86M36.86 400.64H39.31M39.31 400.3H42.1M39.31 400.98H42.1M39.31 400.3V400.98M36.86 401.66H42.1M36.86 400.64V401.66M34.92 399.62V401.15M30.38 394.81V400.38M30.01 404.9H33.97M33.97 404.08H35.21M35.21 403.1H36.32M36.32 402.34H42.1M36.32 403.86H37.53M37.53 403.35H39.04M39.04 403.01H42.1M39.04 403.69H42.1M39.04 403.01V403.69M37.53 404.37H42.1M37.53 403.35V404.37M36.32 402.34V403.86M35.21 405.05H42.1M35.21 403.1V405.05M33.97 405.73H42.1M33.97 404.08V405.73M30.01 397.6V404.9M29.64 407.26H37.97M37.97 406.75H39.52M39.52 406.41H42.1M39.52 407.09H42.1M39.52 406.41V407.09M37.97 407.77H42.1M37.97 406.75V407.77M29.64 401.25V407.26M29.25 391.81V404.26M27.81 409.04H36.64M36.64 408.45H42.1M36.64 409.64H37.7M37.7 409.13H42.1M37.7 410.15H39.16M39.16 409.81H42.1M39.16 410.49H42.1M39.16 409.81V410.49M37.7 409.13V410.15M36.64 408.45V409.64M27.81 398.03V409.04M18.96 436.91H20.77M20.77 417.45H25.9M25.9 412.06H33.36M33.36 411.17H42.1M33.36 412.95H34.24M34.24 412.19H38.95M38.95 411.85H42.1M38.95 412.53H42.1M38.95 411.85V412.53M34.24 413.71H36.63M36.63 413.21H42.1M36.63 414.22H39.41M39.41 413.88H42.1M39.41 414.56H42.1M39.41 413.88V414.56M36.63 413.21V414.22M34.24 412.19V413.71M33.36 411.17V412.95M25.9 422.84H27.24M27.24 417.66H30.56M30.56 415.84H36.2M36.2 415.24H42.1M36.2 416.43H37.42M37.42 415.92H42.1M37.42 416.94H38.88M38.88 416.6H42.1M38.88 417.28H42.1M38.88 416.6V417.28M37.42 415.92V416.94M36.2 415.24V416.43M30.56 419.49H33.98M33.98 417.96H42.1M33.98 421.02H34.22M34.22 419.23H36.57M36.57 418.64H42.1M36.57 419.83H37.65M37.65 419.32H42.1M37.65 420.34H39.38M39.38 420H42.1M39.38 420.68H42.1M39.38 420V420.68M37.65 419.32V420.34M36.57 418.64V419.83M34.22 422.8H34.6M34.6 421.87H36.57M36.57 421.36H42.1M36.57 422.38H39.02M39.02 422.04H42.1M39.02 422.72H42.1M39.02 422.04V422.72M36.57 421.36V422.38M34.6 423.73H39M39 423.39H42.1M39 424.07H42.1M39 423.39V424.07M34.6 421.87V423.73M34.22 419.23V422.8M33.98 417.96V421.02M30.56 415.84V419.49M27.24 428.01H30.16M30.16 425.86H33.94M33.94 425.09H39.07M39.07 424.75H42.1M39.07 425.43H42.1M39.07 424.75V425.43M33.94 426.62H37.32M37.32 426.11H42.1M37.32 427.13H39.12M39.12 426.79H42.1M39.12 427.47H42.1M39.12 426.79V427.47M37.32 426.11V427.13M33.94 425.09V426.62M30.16 430.16H31.02M31.02 429H37.43M37.43 428.49H39.03M39.03 428.15H42.1M39.03 428.83H42.1M39.03 428.15V428.83M37.43 429.51H42.1M37.43 428.49V429.51M31.02 431.31H31.82M31.82 430.19H42.1M31.82 432.44H35.38M35.38 431.21H39.29M39.29 430.87H42.1M39.29 431.55H42.1M39.29 430.87V431.55M35.38 433.67H36.41M36.41 433.08H36.74M36.74 432.57H39.13M39.13 432.23H42.1M39.13 432.91H42.1M39.13 432.23V432.91M36.74 433.59H42.1M36.74 432.57V433.59M36.41 434.26H42.1M36.41 433.08V434.26M35.38 431.21V433.67M31.82 430.19V432.44M31.02 429V431.31M30.16 425.86V430.16M27.24 417.66V428.01M25.9 412.06V422.84M20.77 456.38H21.41M21.41 439.66H30.02M30.02 436.38H31.17M31.17 434.94H42.1M31.17 437.81H33.49M33.49 436.47H38.01M38.01 435.96H39.61M39.61 435.62H42.1M39.61 436.3H42.1M39.61 435.62V436.3M38.01 436.98H42.1M38.01 435.96V436.98M33.49 439.15H33.85M33.85 438H39.35M39.35 437.66H42.1M39.35 438.34H42.1M39.35 437.66V438.34M33.85 440.29H36.27M36.27 439.53H36.62M36.62 439.02H42.1M36.62 440.04H39.04M39.04 439.7H42.1M39.04 440.38H42.1M39.04 439.7V440.38M36.62 439.02V440.04M36.27 441.06H42.1M36.27 439.53V441.06M33.85 438V440.29M33.49 436.47V439.15M31.17 434.94V437.81M30.02 442.95H34.11M34.11 442.08H39.14M39.14 441.74H42.1M39.14 442.42H42.1M39.14 441.74V442.42M34.11 443.82H35.16M35.16 443.1H42.1M35.16 444.54H36.64M36.64 443.78H42.1M36.64 445.3H37.26M37.26 444.79H38.72M38.72 444.45H42.1M38.72 445.13H42.1M38.72 444.45V445.13M37.26 445.81H42.1M37.26 444.79V445.81M36.64 443.78V445.3M35.16 443.1V444.54M34.11 442.08V443.82M30.02 436.38V442.95M21.41 473.09H24.87M24.87 454.89H26.58M26.58 450.6H32.52M32.52 448.93H33.94M33.94 447.13H34.18M34.18 446.49H42.1M34.18 447.77H34.8M34.8 447.17H42.1M34.8 448.36H37.26M37.26 447.85H42.1M37.26 448.87H38.56M38.56 448.53H42.1M38.56 449.21H42.1M38.56 448.53V449.21M37.26 447.85V448.87M34.8 447.17V448.36M34.18 446.49V447.77M33.94 450.74H37.79M37.79 450.23H39.39M39.39 449.89H42.1M39.39 450.57H42.1M39.39 449.89V450.57M37.79 451.25H42.1M37.79 450.23V451.25M33.94 447.13V450.74M32.52 452.27H38.62M38.62 451.93H42.1M38.62 452.61H42.1M38.62 451.93V452.61M32.52 448.93V452.27M26.58 459.18H27.1M27.1 455.79H34.64M34.64 454.56H36.09M36.09 453.63H39.48M39.48 453.29H42.1M39.48 453.97H42.1M39.48 453.29V453.97M36.09 455.49H37.8M37.8 454.98H39.24M39.24 454.64H42.1M39.24 455.32H42.1M39.24 454.64V455.32M37.8 456H42.1M37.8 454.98V456M36.09 453.63V455.49M34.64 457.02H38.76M38.76 456.68H42.1M38.76 457.36H42.1M38.76 456.68V457.36M34.64 454.56V457.02M27.1 462.58H31.79M31.79 459.18H33.43M33.43 458.04H42.1M33.43 460.31H33.69M33.69 459.06H38.62M38.62 458.72H42.1M38.62 459.4H42.1M38.62 458.72V459.4M33.69 461.57H33.94M33.94 460.42H38.73M38.73 460.08H42.1M38.73 460.76H42.1M38.73 460.08V460.76M33.94 462.71H35.24M35.24 461.95H37.71M37.71 461.44H42.1M37.71 462.46H39.38M39.38 462.12H42.1M39.38 462.8H42.1M39.38 462.12V462.8M37.71 461.44V462.46M35.24 463.48H42.1M35.24 461.95V463.48M33.94 460.42V462.71M33.69 459.06V461.57M33.43 458.04V460.31M31.79 465.98H34.85M34.85 464.75H36.44M36.44 464.16H42.1M36.44 465.34H37.9M37.9 464.83H42.1M37.9 465.85H38.8M38.8 465.51H42.1M38.8 466.19H42.1M38.8 465.51V466.19M37.9 464.83V465.85M36.44 464.16V465.34M34.85 467.21H39.33M39.33 466.87H42.1M39.33 467.55H42.1M39.33 466.87V467.55M34.85 464.75V467.21M31.79 459.18V465.98M27.1 455.79V462.58M26.58 450.6V459.18M24.87 491.29H25.61M25.61 476.52H29.01M29.01 472.02H32.3M32.3 469H34.99M34.99 468.23H42.1M34.99 469.76H36.3M36.3 469.25H38.59M38.59 468.91H42.1M38.59 469.59H42.1M38.59 468.91V469.59M36.3 470.27H42.1M36.3 469.25V470.27M34.99 468.23V469.76M32.3 475.05H32.59M32.59 472.36H32.88M32.88 471.29H39.38M39.38 470.95H42.1M39.38 471.63H42.1M39.38 470.95V471.63M32.88 473.43H33.91M33.91 472.31H42.1M33.91 474.56H34.15M34.15 473.33H39.29M39.29 472.99H42.1M39.29 473.67H42.1M39.29 472.99V473.67M34.15 475.79H36.14M36.14 474.85H37.18M37.18 474.35H42.1M37.18 475.36H39.64M39.64 475.02H42.1M39.64 475.7H42.1M39.64 475.02V475.7M37.18 474.35V475.36M36.14 476.72H38.91M38.91 476.38H42.1M38.91 477.06H42.1M38.91 476.38V477.06M36.14 474.85V476.72M34.15 473.33V475.79M33.91 472.31V474.56M32.88 471.29V473.43M32.59 477.74H42.1M32.59 472.36V477.74M32.3 469V475.05M29.01 481.01H33.5M33.5 479.86H35.57M35.57 478.93H36.4M36.4 478.42H42.1M36.4 479.44H39.09M39.09 479.1H42.1M39.09 479.78H42.1M39.09 479.1V479.78M36.4 478.42V479.44M35.57 480.8H39M39 480.46H42.1M39 481.14H42.1M39 480.46V481.14M35.57 478.93V480.8M33.5 482.16H38.52M38.52 481.82H42.1M38.52 482.5H42.1M38.52 481.82V482.5M33.5 479.86V482.16M29.01 472.02V481.01M25.61 506.07H26.1M26.1 497.38H26.58M26.58 493.11H31.25M31.25 490.47H31.57M31.57 486.93H31.89M31.89 484.62H35.37M35.37 483.69H37.65M37.65 483.18H42.1M37.65 484.2H39.52M39.52 483.86H42.1M39.52 484.54H42.1M39.52 483.86V484.54M37.65 483.18V484.2M35.37 485.55H38.83M38.83 485.21H42.1M38.83 485.89H42.1M38.83 485.21V485.89M35.37 483.69V485.55M31.89 489.25H34.31M34.31 488.02H34.65M34.65 487.08H36.62M36.62 486.57H42.1M36.62 487.59H38.6M38.6 487.25H42.1M38.6 487.93H42.1M38.6 487.25V487.93M36.62 486.57V487.59M34.65 488.95H39.15M39.15 488.61H42.1M39.15 489.29H42.1M39.15 488.61V489.29M34.65 487.08V488.95M34.31 490.48H36.3M36.3 489.97H42.1M36.3 490.99H39.37M39.37 490.65H42.1M39.37 491.33H42.1M39.37 490.65V491.33M36.3 489.97V490.99M34.31 488.02V490.48M31.89 484.62V489.25M31.57 494H35.44M35.44 493.28H35.71M35.71 492.52H37.87M37.87 492.01H42.1M37.87 493.03H38.79M38.79 492.69H42.1M38.79 493.37H42.1M38.79 492.69V493.37M37.87 492.01V493.03M35.71 494.05H42.1M35.71 492.52V494.05M35.44 494.73H42.1M35.44 493.28V494.73M31.57 486.93V494M31.25 495.74H38.48M38.48 495.4H42.1M38.48 496.08H42.1M38.48 495.4V496.08M31.25 490.47V495.74M26.58 501.65H30.65M30.65 498.93H32.92M32.92 498.04H35.95M35.95 497.27H36.77M36.77 496.76H42.1M36.77 497.78H38.77M38.77 497.44H42.1M38.77 498.12H42.1M38.77 497.44V498.12M36.77 496.76V497.78M35.95 498.8H42.1M35.95 497.27V498.8M32.92 499.82H39.21M39.21 499.48H42.1M39.21 500.16H42.1M39.21 499.48V500.16M32.92 498.04V499.82M30.65 504.37H30.99M30.99 502.11H35.4M35.4 501.35H36.8M36.8 500.84H42.1M36.8 501.86H39.25M39.25 501.52H42.1M39.25 502.2H42.1M39.25 501.52V502.2M36.8 500.84V501.86M35.4 502.88H42.1M35.4 501.35V502.88M30.99 506.63H31.32M31.32 505.21H36.05M36.05 504.15H36.87M36.87 503.56H42.1M36.87 504.75H37.9M37.9 504.24H42.1M37.9 505.25H38.69M38.69 504.92H42.1M38.69 505.59H42.1M38.69 504.92V505.59M37.9 504.24V505.25M36.87 503.56V504.75M36.05 506.27H42.1M36.05 504.15V506.27M31.32 508.06H35.31M35.31 507.29H39.59M39.59 506.95H42.1M39.59 507.63H42.1M39.59 506.95V507.63M35.31 508.82H37.6M37.6 508.31H42.1M37.6 509.33H38.86M38.86 508.99H42.1M38.86 509.67H42.1M38.86 508.99V509.67M37.6 508.31V509.33M35.31 507.29V508.82M31.32 505.21V508.06M30.99 502.11V506.63M30.65 498.93V504.37M26.58 493.11V501.65M26.1 514.75H30.98M30.98 511.98H32.71M32.71 510.69H38.44M38.44 510.35H42.1M38.44 511.03H42.1M38.44 510.35V511.03M32.71 513.28H34.71M34.71 512.05H38.56M38.56 511.71H42.1M38.56 512.39H42.1M38.56 511.71V512.39M34.71 514.51H36.25M36.25 513.58H37.86M37.86 513.07H42.1M37.86 514.09H38.63M38.63 513.75H42.1M38.63 514.43H42.1M38.63 513.75V514.43M37.86 513.07V514.09M36.25 515.44H38.77M38.77 515.11H42.1M38.77 515.78H42.1M38.77 515.11V515.78M36.25 513.58V515.44M34.71 512.05V514.51M32.71 510.69V513.28M30.98 517.53H32.97M32.97 516.46H42.1M32.97 518.59H36.41M36.41 517.65H37.33M37.33 517.14H42.1M37.33 518.16H38.67M38.67 517.82H42.1M38.67 518.5H42.1M38.67 517.82V518.5M37.33 517.14V518.16M36.41 519.52H38.51M38.51 519.18H42.1M38.51 519.86H42.1M38.51 519.18V519.86M36.41 517.65V519.52M32.97 516.46V518.59M30.98 511.98V517.53M26.1 497.38V514.75M25.61 476.52V506.07M24.87 454.89V491.29M21.41 439.66V473.09M20.77 417.45V456.38M18.96 403.54V436.91M2.2 348.2V420.22" fill="none" stroke="#1a1a1a" stroke-width="0.6"/><path d="M61.14 290.3H106.59M61.14 290.3V307.8M49.78 307.8H72.5M49.78 307.8V316.4M72.5 307.8V309.6M64.92 309.6H80.08M64.92 309.6V316.4M80.08 309.6V316.4M106.59 290.3V304.5M95.22 304.5H117.95M95.22 304.5V316.4M117.95 304.5V308.2M110.38 308.2H125.52M110.38 308.2V316.4M125.52 308.2V316.4" fill="none" stroke="#555" stroke-width="0.7"/><text x="79.6" y="286.8" font-size="8.7" text-anchor="middle" fill="#141414">Phosphoproteome</text><rect x="136.1" y="318.5" width="3.6" height="68.5" fill="url(#gC)"/><g font-size="7" fill="#141414"><text x="142.2" y="326.8">1</text><text x="141.2" y="386.6">−1</text><text transform="translate(149.6,351.4) rotate(-90)" text-anchor="middle">Z-score</text></g><path d="M43.4 521.5V525H85V521.5M89.2 521.5V525H131V521.5" fill="none" stroke="#666" stroke-width="0.7"/><g font-size="7" fill="#141414" text-anchor="middle"><text x="64.2" y="532.8">normoxia</text><text x="108.5" y="532.8">hypoxia</text></g><text x="327.5" y="18.3" font-size="8.7" text-anchor="middle" fill="#141414">Proteome</text><g font-size="7.15" fill="#141414"><rect x="321.4" y="31.1" width="19.5" height="5.75" fill="#ef3cec"/><text x="319.7" y="36.27" text-anchor="end">GO: muscle structure development</text><rect x="321.4" y="39.66" width="21.6" height="5.75" fill="#ef3cec"/><text x="319.7" y="44.84" text-anchor="end">K: Focal adhesion</text><rect x="321.4" y="48.22" width="22.5" height="5.75" fill="#ef3cec"/><text x="319.7" y="53.39" text-anchor="end">R: Metabolism of vitamins and cofactors</text><rect x="321.4" y="56.78" width="24.8" height="5.75" fill="#ef3cec"/><text x="319.7" y="61.95" text-anchor="end">R: ER to Golgi Anterograde Transport</text><rect x="321.4" y="65.34" width="25.5" height="5.75" fill="#ef3cec"/><text x="319.7" y="70.52" text-anchor="end">WP: NRF2 pathway</text><rect x="321.4" y="73.9" width="25.6" height="5.75" fill="#ef3cec"/><text x="319.7" y="79.08" text-anchor="end">GO: negative regulation of catalytic activity</text><rect x="321.4" y="82.46" width="34.9" height="5.75" fill="#ef3cec"/><text x="319.7" y="87.64" text-anchor="end">GO: endocytic recycling</text><rect x="321.4" y="91.02" width="35.6" height="5.75" fill="#ef3cec"/><text x="319.7" y="96.2" text-anchor="end">GO: response to oxygen levels</text><rect x="321.4" y="99.58" width="36.5" height="5.75" fill="#ef3cec"/><text x="319.7" y="104.76" text-anchor="end">R: Iron uptake and transport</text><rect x="321.4" y="108.14" width="39.4" height="5.75" fill="#ef3cec"/><text x="319.7" y="113.32" text-anchor="end">GO: regulation of TGFβR signaling pathway</text><rect x="321.4" y="116.7" width="69.4" height="5.75" fill="#ef3cec"/><text x="319.7" y="121.88" text-anchor="end">K: Carbon metabolism</text><rect x="321.4" y="125.26" width="33.4" height="5.75" fill="#55e2e4"/><text x="319.7" y="130.44" text-anchor="end">GO: response to wounding</text><rect x="321.4" y="133.82" width="35.6" height="5.75" fill="#55e2e4"/><text x="319.7" y="139" text-anchor="end">WP: Oxidative stress response</text><rect x="321.4" y="142.38" width="38.3" height="5.75" fill="#55e2e4"/><text x="319.7" y="147.56" text-anchor="end">R: Beta-catenin independent WNT signaling</text><rect x="321.4" y="150.94" width="41.6" height="5.75" fill="#55e2e4"/><text x="319.7" y="156.12" text-anchor="end">R: Axon guidance</text><rect x="321.4" y="159.5" width="45.7" height="5.75" fill="#55e2e4"/><text x="319.7" y="164.68" text-anchor="end">R: Platelet activation, signaling and aggregation</text><rect x="321.4" y="168.06" width="46.1" height="5.75" fill="#55e2e4"/><text x="319.7" y="173.24" text-anchor="end">GO: response to hormone</text><rect x="321.4" y="176.62" width="48.3" height="5.75" fill="#55e2e4"/><text x="319.7" y="181.8" text-anchor="end">R: Smooth Muscle Contraction</text><rect x="321.4" y="185.18" width="48.3" height="5.75" fill="#55e2e4"/><text x="319.7" y="190.36" text-anchor="end">GO: ribonucleoprotein complex biogenesis</text><rect x="321.4" y="193.74" width="56.3" height="5.75" fill="#55e2e4"/><text x="319.7" y="198.92" text-anchor="end">GO: mRNA processing</text><rect x="321.4" y="202.3" width="63.4" height="5.75" fill="#55e2e4"/><text x="319.7" y="207.48" text-anchor="end">K: Diabetic cardiomyopathy</text><rect x="321.4" y="210.86" width="66" height="5.75" fill="#55e2e4"/><text x="319.7" y="216.04" text-anchor="end">R: Vesicle-mediated transport</text><rect x="321.4" y="219.42" width="95.2" height="5.75" fill="#55e2e4"/><text x="319.7" y="224.6" text-anchor="end">M: Collagens</text></g><path d="M320.9 29.4V226.5H431.9" fill="none" stroke="#888" stroke-width="0.8"/><path d="M320.9 226.5V228.3M339.36 226.5V228.3M357.82 226.5V228.3M376.28 226.5V228.3M394.74 226.5V228.3M413.2 226.5V228.3M431.66 226.5V228.3" fill="none" stroke="#888" stroke-width="0.8"/><g font-size="7.4" fill="#141414" text-anchor="middle"><text x="320.9" y="235.6">0</text><text x="339.36" y="235.6">2</text><text x="357.82" y="235.6">4</text><text x="376.28" y="235.6">6</text><text x="394.74" y="235.6">8</text><text x="414.8" y="235.6">10</text><text x="431.66" y="235.6">12</text></g><text x="354.2" y="246.9" font-size="7.3" fill="#141414">-log<tspan font-size="4.6" dy="1.6">10</tspan><tspan dy="-1.6">(P-value)</tspan></text><rect x="373.3" y="30.4" width="6.4" height="6.2" fill="#ef3cec"/><rect x="373.3" y="40.1" width="6.4" height="6.1" fill="#55e2e4"/><g font-size="7" fill="#141414"><text x="382" y="36.7">Up</text><text x="382" y="45.4">Down</text></g><text x="341.3" y="287.6" font-size="8.7" text-anchor="middle" fill="#141414">Phosphoproteome</text><g font-size="7.15" fill="#141414"><rect x="334" y="295.2" width="32.8" height="5.75" fill="#c8000a"/><text x="331.2" y="301.97" text-anchor="end">GO: regulation of cell morphogenesis</text><rect x="334" y="303.82" width="33.4" height="5.75" fill="#c8000a"/><text x="331.2" y="310.59" text-anchor="end">GO: regulation of focal adhesion assembly</text><rect x="334" y="312.44" width="34.1" height="5.75" fill="#c8000a"/><text x="331.2" y="319.21" text-anchor="end">GO: regulation of cellular localization</text><rect x="334" y="321.06" width="37.3" height="5.75" fill="#c8000a"/><text x="331.2" y="327.83" text-anchor="end">WP: Clear cell renal cell carcinoma pathways</text><rect x="334" y="329.68" width="40.8" height="5.75" fill="#c8000a"/><text x="331.2" y="336.45" text-anchor="end">WP: EGF/EGFR signaling pathway</text><rect x="334" y="338.3" width="41" height="5.75" fill="#c8000a"/><text x="331.2" y="345.07" text-anchor="end">WP: Insulin signaling</text><rect x="334" y="346.92" width="41" height="5.75" fill="#c8000a"/><text x="331.2" y="353.69" text-anchor="end">GO: actin filament-based process</text><rect x="334" y="355.54" width="41" height="5.75" fill="#c8000a"/><text x="331.2" y="362.31" text-anchor="end">GO: endosomal transport</text><rect x="334" y="364.16" width="44.2" height="5.75" fill="#c8000a"/><text x="331.2" y="370.93" text-anchor="end">R: Membrane Trafficking</text><rect x="334" y="372.78" width="45.5" height="5.75" fill="#c8000a"/><text x="331.2" y="379.55" text-anchor="end">GO: regulation of cytoskeleton organization</text><rect x="334" y="381.4" width="45.5" height="5.75" fill="#c8000a"/><text x="331.2" y="388.17" text-anchor="end">GO: protein phosphorylation</text><rect x="334" y="390.02" width="46.3" height="5.75" fill="#c8000a"/><text x="331.2" y="396.79" text-anchor="end">WP: VEGFA-VEGFR2 signaling pathway</text><rect x="334" y="398.64" width="86.3" height="5.75" fill="#c8000a"/><text x="331.2" y="405.41" text-anchor="end">R: Signaling by Rho GTPases</text><rect x="334" y="407.26" width="35.2" height="5.75" fill="#4171cb"/><text x="331.2" y="414.03" text-anchor="end">GO: cellular response to DNA damage stimulus</text><rect x="334" y="415.88" width="35.7" height="5.75" fill="#4171cb"/><text x="331.2" y="422.65" text-anchor="end">GO: negative regulation of catabolic process</text><rect x="334" y="424.5" width="35.7" height="5.75" fill="#4171cb"/><text x="331.2" y="431.27" text-anchor="end">GO: histone monoubiquitination</text><rect x="334" y="433.12" width="40.8" height="5.75" fill="#4171cb"/><text x="331.2" y="439.89" text-anchor="end">GO: protein phosphorylation</text><rect x="334" y="441.74" width="40.8" height="5.75" fill="#4171cb"/><text x="331.2" y="448.51" text-anchor="end">GO: positive regulation of chromosome organization</text><rect x="334" y="450.36" width="46.6" height="5.75" fill="#4171cb"/><text x="331.2" y="457.13" text-anchor="end">R: Signaling by ALK in cancer</text><rect x="334" y="458.98" width="46.8" height="5.75" fill="#4171cb"/><text x="331.2" y="465.75" text-anchor="end">GO: regulation of Ras protein signal transduction</text><rect x="334" y="467.6" width="47.4" height="5.75" fill="#4171cb"/><text x="331.2" y="474.37" text-anchor="end">GO: regulation of cell cycle process</text><rect x="334" y="476.22" width="52.1" height="5.75" fill="#4171cb"/><text x="331.2" y="482.99" text-anchor="end">GO: mitotic cell cycle</text><rect x="334" y="484.84" width="59" height="5.75" fill="#4171cb"/><text x="331.2" y="491.61" text-anchor="end">GO: negative regulation of cytoskeleton organization</text><rect x="334" y="493.46" width="67.2" height="5.75" fill="#4171cb"/><text x="331.2" y="500.23" text-anchor="end">GO: chromatin organization</text><rect x="334" y="502.08" width="68.8" height="5.75" fill="#4171cb"/><text x="331.2" y="508.85" text-anchor="end">GO: negative regulation of organelle organization</text><rect x="334" y="510.7" width="72.3" height="5.75" fill="#4171cb"/><text x="331.2" y="517.47" text-anchor="end">GO: ribonucleoprotein complex biogenesis</text><rect x="334" y="519.32" width="79.7" height="5.75" fill="#4171cb"/><text x="331.2" y="526.09" text-anchor="end">R: Rho GTPase cycle</text></g><path d="M333.5 293.5V526.6H437" fill="none" stroke="#888" stroke-width="0.8"/><path d="M331.5 293.6H333.5M331.5 302.22H333.5M331.5 310.84H333.5M331.5 319.46H333.5M331.5 328.08H333.5M331.5 336.7H333.5M331.5 345.32H333.5M331.5 353.94H333.5M331.5 362.56H333.5M331.5 371.18H333.5M331.5 379.8H333.5M331.5 388.42H333.5M331.5 397.04H333.5M331.5 405.66H333.5M331.5 414.28H333.5M331.5 422.9H333.5M331.5 431.52H333.5M331.5 440.14H333.5M331.5 448.76H333.5M331.5 457.38H333.5M331.5 466H333.5M331.5 474.62H333.5M331.5 483.24H333.5M331.5 491.86H333.5M331.5 500.48H333.5M331.5 509.1H333.5M331.5 517.72H333.5M331.5 526.34H333.5M333.4 526.6V528.4M367.8 526.6V528.4M402.2 526.6V528.4M436.6 526.6V528.4" fill="none" stroke="#888" stroke-width="0.7"/><g font-size="7.4" fill="#141414" text-anchor="middle"><text x="333.4" y="535.3">0</text><text x="367.8" y="535.3">5</text><text x="402.2" y="535.3">10</text><text x="436.6" y="535.3">15</text></g><text x="367.6" y="544.5" font-size="7.3" fill="#141414">-log<tspan font-size="4.6" dy="1.6">10</tspan><tspan dy="-1.6">(P-value)</tspan></text><rect x="384.4" y="296" width="6.5" height="6.2" fill="#c8000a"/><rect x="384.4" y="305.1" width="6.5" height="6" fill="#4171cb"/><g font-size="7" fill="#141414"><text x="393.1" y="301.8">Up</text><text x="393.1" y="310.6">Down</text></g></svg></div></body></html>
